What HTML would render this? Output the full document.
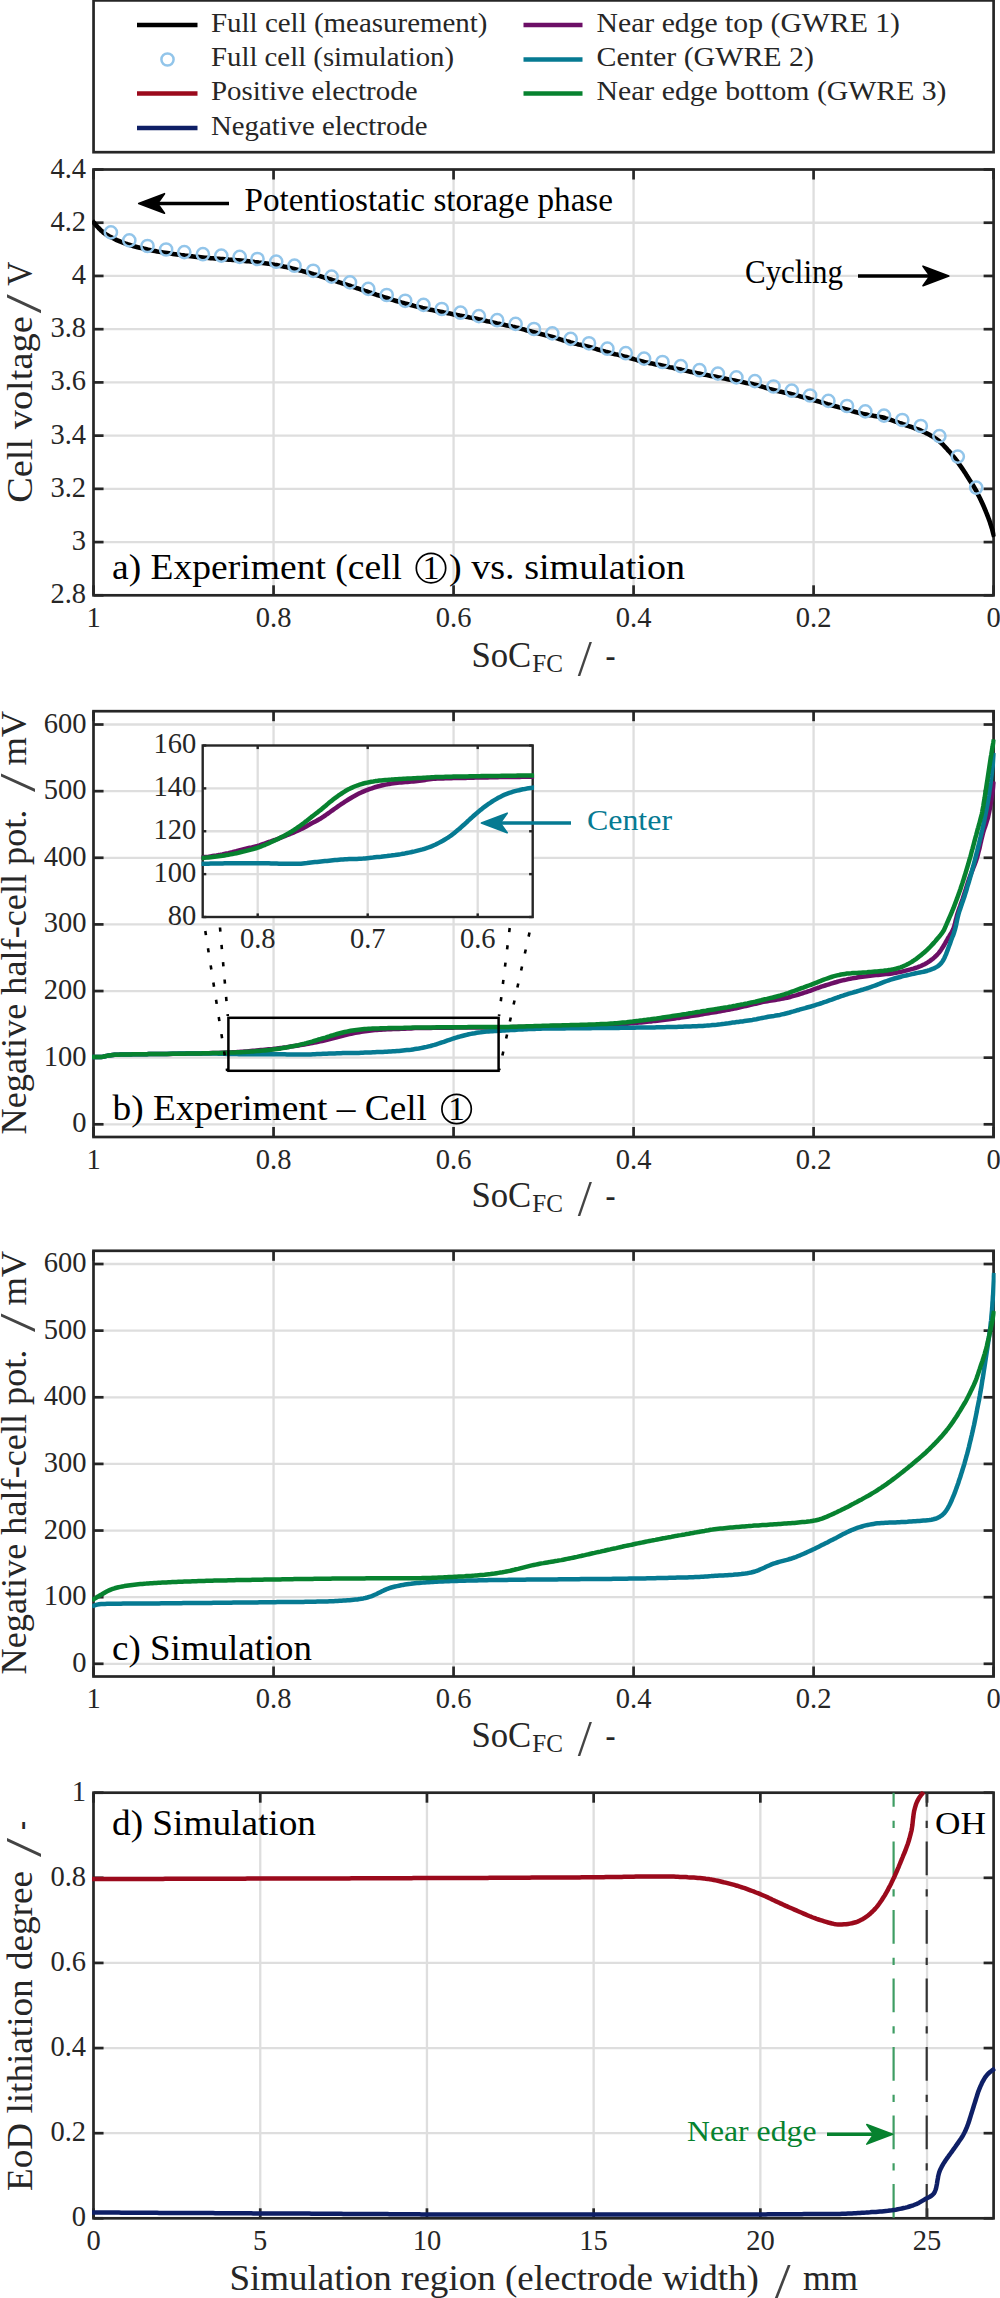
<!DOCTYPE html>
<html><head><meta charset="utf-8"><title>Figure</title><style>html,body{margin:0;padding:0;background:#fff}svg{display:block}</style></head><body>
<svg width="1000" height="2298" viewBox="0 0 1000 2298" font-family='"Liberation Serif", "DejaVu Serif", serif'>
<rect width="1000" height="2298" fill="#ffffff"/>
<rect x="93.55" y="0.4" width="900.05" height="151.8" fill="#fff" stroke="#262626" stroke-width="2.7"/>
<line x1="137.00" y1="25.00" x2="197.50" y2="25.00" stroke="#000000" stroke-width="4.5" />
<circle cx="167.5" cy="59.5" r="6.1" fill="none" stroke="#92c5ea" stroke-width="2.5"/>
<line x1="137.00" y1="93.50" x2="197.50" y2="93.50" stroke="#9b0a1c" stroke-width="4.3" />
<line x1="137.00" y1="128.00" x2="197.50" y2="128.00" stroke="#0e1f66" stroke-width="4.3" />
<line x1="523.50" y1="25.00" x2="582.50" y2="25.00" stroke="#6c0f66" stroke-width="4.3" />
<line x1="523.50" y1="59.50" x2="582.50" y2="59.50" stroke="#067a92" stroke-width="4.3" />
<line x1="523.50" y1="93.50" x2="582.50" y2="93.50" stroke="#07822f" stroke-width="4.3" />
<text x="211.0" y="31.5" font-size="26.5" text-anchor="start" fill="#262626" textLength="276.5" lengthAdjust="spacingAndGlyphs" >Full cell (measurement)</text>
<text x="211.0" y="66.0" font-size="26.5" text-anchor="start" fill="#262626" textLength="243.0" lengthAdjust="spacingAndGlyphs" >Full cell (simulation)</text>
<text x="211.0" y="100.3" font-size="26.5" text-anchor="start" fill="#262626" textLength="206.5" lengthAdjust="spacingAndGlyphs" >Positive electrode</text>
<text x="211.0" y="134.5" font-size="26.5" text-anchor="start" fill="#262626" textLength="216.5" lengthAdjust="spacingAndGlyphs" >Negative electrode</text>
<text x="596.5" y="31.5" font-size="26.5" text-anchor="start" fill="#262626" textLength="303.5" lengthAdjust="spacingAndGlyphs" >Near edge top (GWRE 1)</text>
<text x="596.5" y="66.0" font-size="26.5" text-anchor="start" fill="#262626" textLength="217.5" lengthAdjust="spacingAndGlyphs" >Center (GWRE 2)</text>
<text x="596.5" y="100.3" font-size="26.5" text-anchor="start" fill="#262626" textLength="350.0" lengthAdjust="spacingAndGlyphs" >Near edge bottom (GWRE 3)</text>
<line x1="273.56" y1="169.50" x2="273.56" y2="595.30" stroke="#dedede" stroke-width="2.3" />
<line x1="453.57" y1="169.50" x2="453.57" y2="595.30" stroke="#dedede" stroke-width="2.3" />
<line x1="633.58" y1="169.50" x2="633.58" y2="595.30" stroke="#dedede" stroke-width="2.3" />
<line x1="813.59" y1="169.50" x2="813.59" y2="595.30" stroke="#dedede" stroke-width="2.3" />
<line x1="93.55" y1="222.73" x2="993.60" y2="222.73" stroke="#dedede" stroke-width="2.3" />
<line x1="93.55" y1="275.95" x2="993.60" y2="275.95" stroke="#dedede" stroke-width="2.3" />
<line x1="93.55" y1="329.18" x2="993.60" y2="329.18" stroke="#dedede" stroke-width="2.3" />
<line x1="93.55" y1="382.40" x2="993.60" y2="382.40" stroke="#dedede" stroke-width="2.3" />
<line x1="93.55" y1="435.63" x2="993.60" y2="435.63" stroke="#dedede" stroke-width="2.3" />
<line x1="93.55" y1="488.85" x2="993.60" y2="488.85" stroke="#dedede" stroke-width="2.3" />
<line x1="93.55" y1="542.08" x2="993.60" y2="542.08" stroke="#dedede" stroke-width="2.3" />
<line x1="93.55" y1="595.30" x2="93.55" y2="585.30" stroke="#262626" stroke-width="2.7" />
<line x1="93.55" y1="169.50" x2="93.55" y2="179.50" stroke="#262626" stroke-width="2.7" />
<line x1="273.56" y1="595.30" x2="273.56" y2="585.30" stroke="#262626" stroke-width="2.7" />
<line x1="273.56" y1="169.50" x2="273.56" y2="179.50" stroke="#262626" stroke-width="2.7" />
<line x1="453.57" y1="595.30" x2="453.57" y2="585.30" stroke="#262626" stroke-width="2.7" />
<line x1="453.57" y1="169.50" x2="453.57" y2="179.50" stroke="#262626" stroke-width="2.7" />
<line x1="633.58" y1="595.30" x2="633.58" y2="585.30" stroke="#262626" stroke-width="2.7" />
<line x1="633.58" y1="169.50" x2="633.58" y2="179.50" stroke="#262626" stroke-width="2.7" />
<line x1="813.59" y1="595.30" x2="813.59" y2="585.30" stroke="#262626" stroke-width="2.7" />
<line x1="813.59" y1="169.50" x2="813.59" y2="179.50" stroke="#262626" stroke-width="2.7" />
<line x1="993.60" y1="595.30" x2="993.60" y2="585.30" stroke="#262626" stroke-width="2.7" />
<line x1="993.60" y1="169.50" x2="993.60" y2="179.50" stroke="#262626" stroke-width="2.7" />
<line x1="93.55" y1="169.50" x2="103.55" y2="169.50" stroke="#262626" stroke-width="2.7" />
<line x1="993.60" y1="169.50" x2="983.60" y2="169.50" stroke="#262626" stroke-width="2.7" />
<line x1="93.55" y1="222.73" x2="103.55" y2="222.73" stroke="#262626" stroke-width="2.7" />
<line x1="993.60" y1="222.73" x2="983.60" y2="222.73" stroke="#262626" stroke-width="2.7" />
<line x1="93.55" y1="275.95" x2="103.55" y2="275.95" stroke="#262626" stroke-width="2.7" />
<line x1="993.60" y1="275.95" x2="983.60" y2="275.95" stroke="#262626" stroke-width="2.7" />
<line x1="93.55" y1="329.18" x2="103.55" y2="329.18" stroke="#262626" stroke-width="2.7" />
<line x1="993.60" y1="329.18" x2="983.60" y2="329.18" stroke="#262626" stroke-width="2.7" />
<line x1="93.55" y1="382.40" x2="103.55" y2="382.40" stroke="#262626" stroke-width="2.7" />
<line x1="993.60" y1="382.40" x2="983.60" y2="382.40" stroke="#262626" stroke-width="2.7" />
<line x1="93.55" y1="435.63" x2="103.55" y2="435.63" stroke="#262626" stroke-width="2.7" />
<line x1="993.60" y1="435.63" x2="983.60" y2="435.63" stroke="#262626" stroke-width="2.7" />
<line x1="93.55" y1="488.85" x2="103.55" y2="488.85" stroke="#262626" stroke-width="2.7" />
<line x1="993.60" y1="488.85" x2="983.60" y2="488.85" stroke="#262626" stroke-width="2.7" />
<line x1="93.55" y1="542.08" x2="103.55" y2="542.08" stroke="#262626" stroke-width="2.7" />
<line x1="993.60" y1="542.08" x2="983.60" y2="542.08" stroke="#262626" stroke-width="2.7" />
<line x1="93.55" y1="595.30" x2="103.55" y2="595.30" stroke="#262626" stroke-width="2.7" />
<line x1="993.60" y1="595.30" x2="983.60" y2="595.30" stroke="#262626" stroke-width="2.7" />
<rect x="93.5" y="169.5" width="900.1" height="425.8" fill="none" stroke="#262626" stroke-width="2.7"/>
<clipPath id="ca"><rect x="92.1" y="168.1" width="903.5" height="428.6"/></clipPath>
<g clip-path="url(#ca)">
<polyline points="92.3,220.8 93.3,222.0 94.6,223.5 95.9,225.1 97.2,226.5 98.6,228.0 100.0,229.4 101.4,230.8 102.9,232.1 104.5,233.4 106.2,234.5 107.9,235.5 109.6,236.5 111.4,237.4 113.2,238.3 115.0,239.2 116.8,240.1 118.6,240.9 120.5,241.7 122.3,242.4 124.2,243.1 126.1,243.8 128.0,244.4 129.9,245.0 131.8,245.6 133.7,246.2 135.7,246.7 137.6,247.2 139.6,247.7 141.5,248.1 143.5,248.6 145.4,249.0 147.4,249.5 149.3,249.9 151.3,250.3 153.3,250.7 155.2,251.0 157.2,251.4 159.2,251.7 161.1,252.1 163.1,252.4 165.1,252.7 167.1,253.0 169.1,253.3 171.0,253.6 173.0,253.9 175.0,254.2 177.0,254.5 179.0,254.7 181.0,255.0 183.0,255.2 184.9,255.5 186.9,255.7 188.9,256.0 190.9,256.2 192.9,256.4 194.9,256.7 196.9,256.9 198.9,257.1 200.9,257.3 202.9,257.5 204.8,257.7 206.8,257.8 208.8,258.0 210.8,258.2 212.8,258.3 214.8,258.5 216.8,258.7 218.8,258.8 220.8,259.0 222.8,259.1 224.8,259.3 226.8,259.4 228.8,259.6 230.8,259.7 232.8,259.9 234.8,260.0 236.8,260.2 238.8,260.3 240.8,260.5 242.8,260.7 244.8,260.9 246.8,261.1 248.8,261.3 250.8,261.5 252.7,261.7 254.7,262.0 256.7,262.2 258.7,262.5 260.7,262.7 262.7,263.0 264.7,263.2 266.7,263.5 268.6,263.8 270.6,264.1 272.6,264.4 274.6,264.8 276.5,265.1 278.5,265.5 280.5,265.9 282.4,266.3 284.4,266.7 286.4,267.1 288.3,267.5 290.3,268.0 292.2,268.5 294.2,268.9 296.1,269.4 298.0,269.9 300.0,270.4 301.9,270.9 303.9,271.4 305.8,272.0 307.7,272.5 309.6,273.0 311.6,273.6 313.5,274.2 315.4,274.7 317.3,275.3 319.2,275.9 321.2,276.5 323.1,277.1 325.0,277.7 326.9,278.3 328.8,278.9 330.7,279.5 332.6,280.1 334.5,280.7 336.4,281.4 338.3,282.0 340.2,282.6 342.1,283.2 344.0,283.8 345.9,284.5 347.8,285.1 349.7,285.7 351.6,286.4 353.5,287.0 355.4,287.6 357.3,288.3 359.2,288.9 361.1,289.6 363.0,290.2 364.9,290.9 366.8,291.5 368.7,292.1 370.6,292.8 372.5,293.4 374.4,294.0 376.3,294.7 378.2,295.3 380.1,295.9 382.0,296.5 383.9,297.1 385.9,297.7 387.8,298.3 389.7,298.9 391.6,299.5 393.5,300.1 395.4,300.7 397.3,301.3 399.3,301.8 401.2,302.4 403.1,302.9 405.0,303.5 407.0,304.0 408.9,304.5 410.8,305.1 412.8,305.6 414.7,306.1 416.7,306.6 418.6,307.0 420.6,307.5 422.5,308.0 424.5,308.4 426.4,308.8 428.4,309.3 430.3,309.7 432.3,310.1 434.3,310.5 436.2,310.9 438.2,311.3 440.1,311.7 442.1,312.1 444.1,312.5 446.0,312.8 448.0,313.2 450.0,313.6 451.9,314.0 453.9,314.4 455.9,314.8 457.8,315.2 459.8,315.6 461.8,315.9 463.7,316.3 465.7,316.7 467.7,317.1 469.6,317.5 471.6,317.8 473.6,318.2 475.5,318.6 477.5,319.0 479.4,319.4 481.4,319.8 483.4,320.3 485.3,320.7 487.3,321.2 489.2,321.6 491.2,322.0 493.1,322.5 495.1,322.9 497.0,323.4 499.0,323.8 501.0,324.2 502.9,324.6 504.9,325.0 506.8,325.4 508.8,325.8 510.8,326.2 512.7,326.7 514.7,327.1 516.6,327.6 518.6,328.1 520.5,328.6 522.4,329.1 524.4,329.6 526.3,330.2 528.2,330.7 530.1,331.2 532.1,331.8 534.0,332.3 535.9,332.8 537.9,333.3 539.8,333.8 541.8,334.3 543.7,334.8 545.7,335.3 547.6,335.8 549.5,336.3 551.5,336.8 553.4,337.3 555.3,337.9 557.2,338.4 559.2,339.0 561.1,339.6 563.0,340.2 564.9,340.7 566.8,341.3 568.8,341.8 570.7,342.4 572.6,342.9 574.6,343.4 576.5,343.9 578.5,344.4 580.4,344.8 582.4,345.3 584.3,345.8 586.2,346.3 588.2,346.8 590.1,347.3 592.0,347.8 594.0,348.4 595.9,348.9 597.8,349.5 599.7,350.0 601.7,350.6 603.6,351.1 605.5,351.7 607.5,352.2 609.4,352.7 611.3,353.2 613.3,353.7 615.2,354.2 617.2,354.6 619.1,355.1 621.1,355.6 623.0,356.1 624.9,356.6 626.9,357.1 628.8,357.7 630.7,358.2 632.7,358.8 634.6,359.4 636.5,359.9 638.4,360.5 640.4,361.0 642.3,361.5 644.2,362.0 646.2,362.4 648.1,362.8 650.1,363.2 652.1,363.6 654.0,364.0 656.0,364.4 658.0,364.7 659.9,365.1 661.9,365.5 663.9,365.9 665.8,366.3 667.8,366.7 669.7,367.2 671.7,367.6 673.7,368.0 675.6,368.5 677.6,368.9 679.5,369.3 681.5,369.8 683.4,370.2 685.4,370.6 687.3,371.1 689.3,371.5 691.3,371.9 693.2,372.4 695.2,372.8 697.1,373.2 699.1,373.6 701.1,374.0 703.0,374.4 705.0,374.8 707.0,375.1 708.9,375.5 710.9,375.9 712.9,376.2 714.8,376.6 716.8,377.0 718.8,377.4 720.7,377.8 722.7,378.2 724.6,378.6 726.6,379.0 728.6,379.4 730.5,379.8 732.5,380.2 734.5,380.6 736.4,381.0 738.4,381.4 740.4,381.8 742.3,382.1 744.3,382.5 746.3,382.9 748.2,383.2 750.2,383.6 752.2,384.0 754.1,384.5 756.1,384.9 758.0,385.4 759.9,386.0 761.8,386.5 763.8,387.1 765.7,387.7 767.6,388.3 769.5,388.9 771.4,389.4 773.4,389.9 775.3,390.4 777.3,390.9 779.2,391.4 781.2,391.8 783.1,392.2 785.1,392.7 787.0,393.1 789.0,393.5 790.9,394.0 792.9,394.5 794.8,395.0 796.8,395.4 798.7,395.9 800.6,396.5 802.6,397.0 804.5,397.5 806.5,398.0 808.4,398.5 810.3,399.1 812.2,399.6 814.2,400.2 816.1,400.7 818.0,401.3 819.9,401.9 821.8,402.5 823.8,403.0 825.7,403.6 827.6,404.2 829.5,404.7 831.5,405.3 833.4,405.8 835.3,406.3 837.3,406.8 839.2,407.4 841.1,407.9 843.0,408.4 845.0,409.0 846.9,409.5 848.8,410.0 850.8,410.6 852.7,411.2 854.6,411.7 856.5,412.3 858.5,412.8 860.4,413.3 862.4,413.8 864.3,414.2 866.3,414.6 868.2,415.0 870.2,415.3 872.2,415.6 874.2,415.9 876.2,416.2 878.1,416.5 880.1,416.9 882.0,417.3 884.0,417.8 885.9,418.4 887.8,418.9 889.7,419.5 891.6,420.2 893.5,420.9 895.4,421.5 897.3,422.2 899.2,422.9 901.1,423.5 903.0,424.2 904.9,424.8 906.8,425.5 908.7,426.1 910.6,426.7 912.5,427.4 914.4,428.1 916.3,428.8 918.1,429.5 920.0,430.2 921.8,431.0 923.6,431.8 925.4,432.7 927.2,433.6 929.0,434.6 930.7,435.6 932.5,436.6 934.2,437.6 935.8,438.7 937.5,439.9 939.1,441.1 940.6,442.4 942.0,443.7 943.5,445.2 944.8,446.6 946.2,448.1 947.5,449.6 948.9,451.1 950.2,452.6 951.5,454.1 952.7,455.7 954.0,457.2 955.2,458.8 956.5,460.4 957.7,462.0 958.8,463.6 960.0,465.3 961.1,466.9 962.3,468.6 963.4,470.2 964.5,471.9 965.6,473.6 966.6,475.3 967.7,477.0 968.8,478.7 969.9,480.4 970.9,482.0 972.0,483.7 973.1,485.5 974.1,487.2 975.1,488.9 976.1,490.7 977.0,492.4 977.9,494.2 978.8,496.0 979.7,497.8 980.6,499.6 981.4,501.4 982.3,503.2 983.1,505.0 983.9,506.9 984.7,508.7 985.5,510.6 986.2,512.4 987.0,514.3 987.7,516.1 988.4,518.0 989.1,519.9 989.8,521.8 990.4,523.7 991.0,525.6 991.6,527.5 992.2,529.4 992.7,531.4 993.2,533.3 993.7,535.2 994.2,536.8" fill="none" stroke="#000000" stroke-width="4.6" stroke-linejoin="round" />
</g>
<circle cx="110.9" cy="232.4" r="6.1" fill="none" stroke="#92c5ea" stroke-width="2.5"/>
<circle cx="129.3" cy="240.4" r="6.1" fill="none" stroke="#92c5ea" stroke-width="2.5"/>
<circle cx="147.5" cy="246.0" r="6.1" fill="none" stroke="#92c5ea" stroke-width="2.5"/>
<circle cx="166.1" cy="249.5" r="6.1" fill="none" stroke="#92c5ea" stroke-width="2.5"/>
<circle cx="184.3" cy="252.1" r="6.1" fill="none" stroke="#92c5ea" stroke-width="2.5"/>
<circle cx="202.9" cy="254.2" r="6.1" fill="none" stroke="#92c5ea" stroke-width="2.5"/>
<circle cx="221.3" cy="255.6" r="6.1" fill="none" stroke="#92c5ea" stroke-width="2.5"/>
<circle cx="239.7" cy="256.9" r="6.1" fill="none" stroke="#92c5ea" stroke-width="2.5"/>
<circle cx="257.5" cy="259.0" r="6.1" fill="none" stroke="#92c5ea" stroke-width="2.5"/>
<circle cx="276.2" cy="261.7" r="6.1" fill="none" stroke="#92c5ea" stroke-width="2.5"/>
<circle cx="294.5" cy="265.7" r="6.1" fill="none" stroke="#92c5ea" stroke-width="2.5"/>
<circle cx="313.2" cy="270.8" r="6.1" fill="none" stroke="#92c5ea" stroke-width="2.5"/>
<circle cx="331.6" cy="276.6" r="6.1" fill="none" stroke="#92c5ea" stroke-width="2.5"/>
<circle cx="350.0" cy="282.4" r="6.1" fill="none" stroke="#92c5ea" stroke-width="2.5"/>
<circle cx="368.3" cy="288.9" r="6.1" fill="none" stroke="#92c5ea" stroke-width="2.5"/>
<circle cx="386.7" cy="295.0" r="6.1" fill="none" stroke="#92c5ea" stroke-width="2.5"/>
<circle cx="405.2" cy="300.8" r="6.1" fill="none" stroke="#92c5ea" stroke-width="2.5"/>
<circle cx="423.5" cy="304.9" r="6.1" fill="none" stroke="#92c5ea" stroke-width="2.5"/>
<circle cx="441.8" cy="309.0" r="6.1" fill="none" stroke="#92c5ea" stroke-width="2.5"/>
<circle cx="460.5" cy="312.7" r="6.1" fill="none" stroke="#92c5ea" stroke-width="2.5"/>
<circle cx="478.9" cy="316.1" r="6.1" fill="none" stroke="#92c5ea" stroke-width="2.5"/>
<circle cx="497.2" cy="320.2" r="6.1" fill="none" stroke="#92c5ea" stroke-width="2.5"/>
<circle cx="515.6" cy="323.9" r="6.1" fill="none" stroke="#92c5ea" stroke-width="2.5"/>
<circle cx="534.0" cy="329.0" r="6.1" fill="none" stroke="#92c5ea" stroke-width="2.5"/>
<circle cx="552.3" cy="333.4" r="6.1" fill="none" stroke="#92c5ea" stroke-width="2.5"/>
<circle cx="570.7" cy="338.9" r="6.1" fill="none" stroke="#92c5ea" stroke-width="2.5"/>
<circle cx="589.0" cy="343.3" r="6.1" fill="none" stroke="#92c5ea" stroke-width="2.5"/>
<circle cx="607.4" cy="348.7" r="6.1" fill="none" stroke="#92c5ea" stroke-width="2.5"/>
<circle cx="625.8" cy="353.2" r="6.1" fill="none" stroke="#92c5ea" stroke-width="2.5"/>
<circle cx="644.1" cy="358.6" r="6.1" fill="none" stroke="#92c5ea" stroke-width="2.5"/>
<circle cx="662.5" cy="362.0" r="6.1" fill="none" stroke="#92c5ea" stroke-width="2.5"/>
<circle cx="680.8" cy="366.1" r="6.1" fill="none" stroke="#92c5ea" stroke-width="2.5"/>
<circle cx="699.5" cy="370.2" r="6.1" fill="none" stroke="#92c5ea" stroke-width="2.5"/>
<circle cx="717.9" cy="373.6" r="6.1" fill="none" stroke="#92c5ea" stroke-width="2.5"/>
<circle cx="736.4" cy="377.4" r="6.1" fill="none" stroke="#92c5ea" stroke-width="2.5"/>
<circle cx="754.9" cy="381.1" r="6.1" fill="none" stroke="#92c5ea" stroke-width="2.5"/>
<circle cx="773.5" cy="386.5" r="6.1" fill="none" stroke="#92c5ea" stroke-width="2.5"/>
<circle cx="791.8" cy="390.7" r="6.1" fill="none" stroke="#92c5ea" stroke-width="2.5"/>
<circle cx="810.1" cy="395.5" r="6.1" fill="none" stroke="#92c5ea" stroke-width="2.5"/>
<circle cx="828.4" cy="400.9" r="6.1" fill="none" stroke="#92c5ea" stroke-width="2.5"/>
<circle cx="847.0" cy="406.0" r="6.1" fill="none" stroke="#92c5ea" stroke-width="2.5"/>
<circle cx="865.3" cy="411.4" r="6.1" fill="none" stroke="#92c5ea" stroke-width="2.5"/>
<circle cx="884.0" cy="415.6" r="6.1" fill="none" stroke="#92c5ea" stroke-width="2.5"/>
<circle cx="902.3" cy="420.0" r="6.1" fill="none" stroke="#92c5ea" stroke-width="2.5"/>
<circle cx="920.8" cy="426.0" r="6.1" fill="none" stroke="#92c5ea" stroke-width="2.5"/>
<circle cx="939.4" cy="436.1" r="6.1" fill="none" stroke="#92c5ea" stroke-width="2.5"/>
<circle cx="957.8" cy="456.6" r="6.1" fill="none" stroke="#92c5ea" stroke-width="2.5"/>
<circle cx="976.2" cy="487.6" r="6.1" fill="none" stroke="#92c5ea" stroke-width="2.5"/>
<text x="86.0" y="177.5" font-size="28.5" text-anchor="end" fill="#262626" >4.4</text>
<text x="86.0" y="230.7" font-size="28.5" text-anchor="end" fill="#262626" >4.2</text>
<text x="86.0" y="284.0" font-size="28.5" text-anchor="end" fill="#262626" >4</text>
<text x="86.0" y="337.2" font-size="28.5" text-anchor="end" fill="#262626" >3.8</text>
<text x="86.0" y="390.4" font-size="28.5" text-anchor="end" fill="#262626" >3.6</text>
<text x="86.0" y="443.6" font-size="28.5" text-anchor="end" fill="#262626" >3.4</text>
<text x="86.0" y="496.9" font-size="28.5" text-anchor="end" fill="#262626" >3.2</text>
<text x="86.0" y="550.1" font-size="28.5" text-anchor="end" fill="#262626" >3</text>
<text x="86.0" y="603.3" font-size="28.5" text-anchor="end" fill="#262626" >2.8</text>
<text x="93.5" y="627.2" font-size="28.5" text-anchor="middle" fill="#262626" >1</text>
<text x="273.6" y="627.2" font-size="28.5" text-anchor="middle" fill="#262626" >0.8</text>
<text x="453.6" y="627.2" font-size="28.5" text-anchor="middle" fill="#262626" >0.6</text>
<text x="633.6" y="627.2" font-size="28.5" text-anchor="middle" fill="#262626" >0.4</text>
<text x="813.6" y="627.2" font-size="28.5" text-anchor="middle" fill="#262626" >0.2</text>
<text x="993.6" y="627.2" font-size="28.5" text-anchor="middle" fill="#262626" >0</text>
<text x="471.4" y="666.5" font-size="35.0" fill="#262626" textLength="59.8" lengthAdjust="spacingAndGlyphs">SoC</text>
<text x="532.3" y="671.7" font-size="25.2" fill="#262626" textLength="30.7" lengthAdjust="spacingAndGlyphs">FC</text>
<text x="577.8" y="674.7" font-size="50.8" fill="#444" textLength="14.2" lengthAdjust="spacingAndGlyphs">/</text>
<text x="605.5" y="666.5" font-size="35.0" fill="#262626" textLength="10.0" lengthAdjust="spacingAndGlyphs">-</text>
<g transform="translate(32.0,502.8) rotate(-90)">
<text x="0.0" y="0.0" font-size="35.0" fill="#262626" textLength="186.5" lengthAdjust="spacingAndGlyphs">Cell voltage</text>
<text x="189.5" y="8.2" font-size="50.8" fill="#444" textLength="19.0" lengthAdjust="spacingAndGlyphs">/</text>
<text x="216.8" y="0.0" font-size="35.0" fill="#262626" textLength="24.5" lengthAdjust="spacingAndGlyphs">V</text>
</g>
<text x="112.0" y="579.0" font-size="35" text-anchor="start" fill="#000" textLength="290.0" lengthAdjust="spacingAndGlyphs" >a) Experiment (cell</text>
<text x="449.0" y="579.0" font-size="35" text-anchor="start" fill="#000" textLength="236.0" lengthAdjust="spacingAndGlyphs" >) vs. simulation</text>
<circle cx="431.0" cy="568.1" r="14.7" fill="none" stroke="#000" stroke-width="1.7"/>
<text x="431.0" y="578.8" font-size="34" text-anchor="middle" fill="#000" >1</text>
<text x="244.5" y="211.0" font-size="33" text-anchor="start" fill="#000" textLength="368.5" lengthAdjust="spacingAndGlyphs" >Potentiostatic storage phase</text>
<text x="745.0" y="283.0" font-size="33" text-anchor="start" fill="#000" textLength="98.0" lengthAdjust="spacingAndGlyphs" >Cycling</text>
<line x1="229.00" y1="203.50" x2="157.50" y2="203.50" stroke="#000000" stroke-width="3.5" />
<polygon points="138.7,203.5 164.5,193.7 157.5,203.5 164.5,213.3" fill="#000000" stroke="#000000" stroke-width="1.6" stroke-linejoin="round"/>
<line x1="858.00" y1="276.00" x2="930.00" y2="276.00" stroke="#000000" stroke-width="3.5" />
<polygon points="948.8,276.0 923.0,266.2 930.0,276.0 923.0,285.8" fill="#000000" stroke="#000000" stroke-width="1.6" stroke-linejoin="round"/>
<line x1="273.56" y1="711.20" x2="273.56" y2="1137.00" stroke="#dedede" stroke-width="2.3" />
<line x1="453.57" y1="711.20" x2="453.57" y2="1137.00" stroke="#dedede" stroke-width="2.3" />
<line x1="633.58" y1="711.20" x2="633.58" y2="1137.00" stroke="#dedede" stroke-width="2.3" />
<line x1="813.59" y1="711.20" x2="813.59" y2="1137.00" stroke="#dedede" stroke-width="2.3" />
<line x1="93.55" y1="1124.30" x2="993.60" y2="1124.30" stroke="#dedede" stroke-width="2.3" />
<line x1="93.55" y1="1057.67" x2="993.60" y2="1057.67" stroke="#dedede" stroke-width="2.3" />
<line x1="93.55" y1="991.04" x2="993.60" y2="991.04" stroke="#dedede" stroke-width="2.3" />
<line x1="93.55" y1="924.41" x2="993.60" y2="924.41" stroke="#dedede" stroke-width="2.3" />
<line x1="93.55" y1="857.78" x2="993.60" y2="857.78" stroke="#dedede" stroke-width="2.3" />
<line x1="93.55" y1="791.15" x2="993.60" y2="791.15" stroke="#dedede" stroke-width="2.3" />
<line x1="93.55" y1="724.52" x2="993.60" y2="724.52" stroke="#dedede" stroke-width="2.3" />
<line x1="93.55" y1="1137.00" x2="93.55" y2="1127.00" stroke="#262626" stroke-width="2.7" />
<line x1="93.55" y1="711.20" x2="93.55" y2="721.20" stroke="#262626" stroke-width="2.7" />
<line x1="273.56" y1="1137.00" x2="273.56" y2="1127.00" stroke="#262626" stroke-width="2.7" />
<line x1="273.56" y1="711.20" x2="273.56" y2="721.20" stroke="#262626" stroke-width="2.7" />
<line x1="453.57" y1="1137.00" x2="453.57" y2="1127.00" stroke="#262626" stroke-width="2.7" />
<line x1="453.57" y1="711.20" x2="453.57" y2="721.20" stroke="#262626" stroke-width="2.7" />
<line x1="633.58" y1="1137.00" x2="633.58" y2="1127.00" stroke="#262626" stroke-width="2.7" />
<line x1="633.58" y1="711.20" x2="633.58" y2="721.20" stroke="#262626" stroke-width="2.7" />
<line x1="813.59" y1="1137.00" x2="813.59" y2="1127.00" stroke="#262626" stroke-width="2.7" />
<line x1="813.59" y1="711.20" x2="813.59" y2="721.20" stroke="#262626" stroke-width="2.7" />
<line x1="993.60" y1="1137.00" x2="993.60" y2="1127.00" stroke="#262626" stroke-width="2.7" />
<line x1="993.60" y1="711.20" x2="993.60" y2="721.20" stroke="#262626" stroke-width="2.7" />
<line x1="93.55" y1="1124.30" x2="103.55" y2="1124.30" stroke="#262626" stroke-width="2.7" />
<line x1="993.60" y1="1124.30" x2="983.60" y2="1124.30" stroke="#262626" stroke-width="2.7" />
<line x1="93.55" y1="1057.67" x2="103.55" y2="1057.67" stroke="#262626" stroke-width="2.7" />
<line x1="993.60" y1="1057.67" x2="983.60" y2="1057.67" stroke="#262626" stroke-width="2.7" />
<line x1="93.55" y1="991.04" x2="103.55" y2="991.04" stroke="#262626" stroke-width="2.7" />
<line x1="993.60" y1="991.04" x2="983.60" y2="991.04" stroke="#262626" stroke-width="2.7" />
<line x1="93.55" y1="924.41" x2="103.55" y2="924.41" stroke="#262626" stroke-width="2.7" />
<line x1="993.60" y1="924.41" x2="983.60" y2="924.41" stroke="#262626" stroke-width="2.7" />
<line x1="93.55" y1="857.78" x2="103.55" y2="857.78" stroke="#262626" stroke-width="2.7" />
<line x1="993.60" y1="857.78" x2="983.60" y2="857.78" stroke="#262626" stroke-width="2.7" />
<line x1="93.55" y1="791.15" x2="103.55" y2="791.15" stroke="#262626" stroke-width="2.7" />
<line x1="993.60" y1="791.15" x2="983.60" y2="791.15" stroke="#262626" stroke-width="2.7" />
<line x1="93.55" y1="724.52" x2="103.55" y2="724.52" stroke="#262626" stroke-width="2.7" />
<line x1="993.60" y1="724.52" x2="983.60" y2="724.52" stroke="#262626" stroke-width="2.7" />
<rect x="93.5" y="711.2" width="900.1" height="425.8" fill="none" stroke="#262626" stroke-width="2.7"/>
<clipPath id="cb"><rect x="92.1" y="709.8" width="903.5" height="428.6"/></clipPath>
<g clip-path="url(#cb)">
<polyline points="91.4,1057.0 93.0,1057.0 95.0,1057.0 97.0,1057.0 99.0,1057.0 101.0,1056.9 103.0,1056.7 104.9,1056.3 106.8,1055.9 108.8,1055.5 110.7,1055.2 112.7,1055.0 114.7,1054.8 116.7,1054.7 118.7,1054.7 120.7,1054.6 122.7,1054.5 124.7,1054.5 126.8,1054.4 128.8,1054.4 130.8,1054.4 132.8,1054.3 134.8,1054.3 136.8,1054.3 138.8,1054.3 140.8,1054.2 142.8,1054.2 144.8,1054.2 146.8,1054.2 148.8,1054.1 150.8,1054.1 152.8,1054.1 154.8,1054.1 156.8,1054.0 158.8,1054.0 160.8,1054.0 162.8,1054.0 164.8,1053.9 166.8,1053.9 168.8,1053.9 170.8,1053.9 172.8,1053.8 174.8,1053.8 176.8,1053.8 178.8,1053.7 180.8,1053.7 182.8,1053.7 184.8,1053.7 186.8,1053.6 188.8,1053.6 190.8,1053.6 192.8,1053.5 194.8,1053.5 196.8,1053.5 198.8,1053.4 200.8,1053.4 202.8,1053.3 204.8,1053.3 206.8,1053.2 208.8,1053.2 210.8,1053.1 212.8,1053.1 214.8,1053.0 216.8,1052.9 218.8,1052.9 220.8,1052.8 222.8,1052.7 224.8,1052.6 226.8,1052.5 228.8,1052.5 230.8,1052.4 232.8,1052.3 234.8,1052.2 236.8,1052.1 238.8,1051.9 240.8,1051.8 242.8,1051.7 244.8,1051.5 246.8,1051.4 248.8,1051.2 250.8,1051.0 252.8,1050.8 254.8,1050.7 256.8,1050.5 258.8,1050.3 260.8,1050.1 262.8,1049.9 264.8,1049.7 266.8,1049.5 268.7,1049.3 270.7,1049.2 272.7,1049.0 274.7,1048.7 276.7,1048.5 278.7,1048.2 280.7,1047.9 282.7,1047.7 284.6,1047.4 286.6,1047.2 288.6,1046.9 290.6,1046.6 292.6,1046.3 294.6,1046.0 296.5,1045.7 298.5,1045.4 300.5,1045.1 302.5,1044.8 304.4,1044.5 306.4,1044.1 308.4,1043.8 310.4,1043.4 312.3,1043.0 314.3,1042.6 316.2,1042.2 318.2,1041.8 320.2,1041.4 322.1,1041.0 324.1,1040.6 326.0,1040.1 328.0,1039.6 329.9,1039.1 331.8,1038.6 333.8,1038.1 335.7,1037.6 337.6,1037.0 339.6,1036.5 341.5,1036.0 343.5,1035.5 345.4,1035.1 347.3,1034.6 349.3,1034.1 351.2,1033.7 353.2,1033.3 355.2,1032.9 357.1,1032.5 359.1,1032.2 361.1,1031.8 363.1,1031.5 365.0,1031.3 367.0,1031.0 369.0,1030.7 371.0,1030.5 373.0,1030.3 375.0,1030.1 377.0,1029.9 379.0,1029.8 381.0,1029.7 383.0,1029.5 385.0,1029.4 387.0,1029.3 389.0,1029.2 391.0,1029.2 393.0,1029.1 395.0,1029.0 397.0,1029.0 399.0,1028.9 401.0,1028.8 403.0,1028.8 405.0,1028.7 407.0,1028.6 409.0,1028.5 411.0,1028.4 413.0,1028.2 415.0,1028.1 417.0,1028.1 419.0,1028.0 421.0,1028.0 423.0,1027.9 425.0,1027.9 427.0,1027.9 429.0,1027.9 431.0,1027.9 433.0,1027.8 435.0,1027.8 437.0,1027.8 439.0,1027.8 441.0,1027.8 443.0,1027.8 445.0,1027.7 447.0,1027.7 449.0,1027.7 451.0,1027.7 453.0,1027.7 455.0,1027.6 457.0,1027.6 459.0,1027.6 461.0,1027.6 463.0,1027.6 465.0,1027.6 467.0,1027.6 469.0,1027.5 471.0,1027.5 473.0,1027.5 475.0,1027.5 477.0,1027.5 479.0,1027.5 481.0,1027.5 483.0,1027.5 485.0,1027.5 487.0,1027.5 489.0,1027.4 491.0,1027.4 493.0,1027.4 495.0,1027.4 497.0,1027.4 499.0,1027.4 501.0,1027.4 503.0,1027.3 505.0,1027.3 507.1,1027.3 509.1,1027.2 511.1,1027.2 513.1,1027.1 515.1,1027.1 517.1,1027.0 519.1,1027.0 521.1,1026.9 523.1,1026.9 525.1,1026.8 527.1,1026.8 529.1,1026.7 531.1,1026.6 533.1,1026.6 535.1,1026.5 537.1,1026.5 539.1,1026.4 541.1,1026.4 543.1,1026.3 545.1,1026.3 547.1,1026.2 549.1,1026.2 551.1,1026.2 553.1,1026.1 555.1,1026.1 557.1,1026.1 559.1,1026.0 561.1,1026.0 563.1,1026.0 565.1,1025.9 567.1,1025.9 569.1,1025.9 571.1,1025.8 573.1,1025.8 575.1,1025.8 577.1,1025.7 579.1,1025.7 581.1,1025.7 583.1,1025.6 585.1,1025.6 587.1,1025.5 589.1,1025.5 591.1,1025.5 593.1,1025.4 595.1,1025.4 597.1,1025.3 599.1,1025.3 601.1,1025.2 603.1,1025.2 605.1,1025.1 607.1,1025.0 609.1,1024.9 611.1,1024.9 613.1,1024.8 615.1,1024.6 617.1,1024.5 619.1,1024.4 621.1,1024.2 623.1,1024.1 625.1,1023.9 627.1,1023.7 629.1,1023.5 631.1,1023.3 633.1,1023.2 635.1,1023.0 637.1,1022.8 639.1,1022.6 641.1,1022.4 643.0,1022.2 645.0,1022.0 647.0,1021.8 649.0,1021.6 651.0,1021.4 653.0,1021.1 655.0,1020.9 657.0,1020.7 659.0,1020.4 661.0,1020.2 662.9,1020.0 664.9,1019.7 666.9,1019.5 668.9,1019.2 670.9,1018.9 672.9,1018.7 674.9,1018.4 676.8,1018.1 678.8,1017.9 680.8,1017.6 682.8,1017.3 684.8,1017.0 686.7,1016.7 688.7,1016.4 690.7,1016.1 692.7,1015.8 694.7,1015.5 696.6,1015.2 698.6,1014.9 700.6,1014.6 702.6,1014.2 704.5,1013.9 706.5,1013.6 708.5,1013.3 710.5,1012.9 712.4,1012.6 714.4,1012.2 716.4,1011.9 718.4,1011.6 720.3,1011.2 722.3,1010.8 724.3,1010.5 726.2,1010.1 728.2,1009.7 730.2,1009.4 732.1,1009.0 734.1,1008.6 736.1,1008.2 738.0,1007.8 740.0,1007.3 741.9,1006.9 743.9,1006.4 745.8,1006.0 747.8,1005.5 749.7,1005.0 751.7,1004.6 753.6,1004.1 755.6,1003.7 757.5,1003.2 759.5,1002.8 761.4,1002.3 763.4,1001.9 765.4,1001.5 767.3,1001.2 769.3,1000.8 771.3,1000.5 773.2,1000.2 775.2,999.9 777.2,999.6 779.2,999.3 781.1,998.9 783.1,998.5 785.1,998.1 787.0,997.7 789.0,997.2 790.9,996.7 792.8,996.1 794.8,995.6 796.7,995.1 798.6,994.5 800.5,993.9 802.4,993.3 804.3,992.7 806.2,992.1 808.1,991.4 810.0,990.8 811.9,990.1 813.8,989.4 815.7,988.7 817.6,988.0 819.4,987.4 821.3,986.7 823.2,986.1 825.1,985.5 827.0,984.9 829.0,984.3 830.9,983.7 832.8,983.1 834.7,982.5 836.6,982.0 838.6,981.4 840.5,980.9 842.5,980.4 844.4,980.0 846.3,979.6 848.3,979.1 850.3,978.8 852.2,978.4 854.2,978.0 856.2,977.7 858.2,977.3 860.1,977.0 862.1,976.7 864.1,976.4 866.1,976.2 868.1,975.9 870.1,975.7 872.0,975.5 874.0,975.3 876.0,975.1 878.0,974.9 880.0,974.7 882.0,974.5 884.0,974.3 886.0,974.1 888.0,973.9 890.0,973.7 892.0,973.4 893.9,973.1 895.9,972.8 897.9,972.4 899.8,972.0 901.8,971.6 903.7,971.1 905.7,970.6 907.6,970.1 909.6,969.6 911.5,969.1 913.4,968.6 915.4,968.0 917.3,967.4 919.1,966.7 921.0,966.0 922.8,965.1 924.6,964.2 926.3,963.3 928.1,962.2 929.7,961.1 931.3,959.9 932.9,958.7 934.4,957.4 935.9,956.0 937.3,954.6 938.6,953.1 939.9,951.5 941.0,949.9 942.1,948.2 943.2,946.5 944.2,944.8 945.2,943.1 946.2,941.3 947.2,939.6 948.2,937.8 949.3,936.1 950.3,934.4 951.4,932.7 952.4,931.0 953.2,929.2 953.9,927.4 954.5,925.5 955.0,923.6 955.4,921.6 955.9,919.6 956.4,917.7 956.9,915.7 957.5,913.8 958.1,911.9 958.7,910.0 959.4,908.1 960.1,906.3 960.7,904.4 961.4,902.5 962.1,900.6 962.8,898.7 963.4,896.8 964.0,894.9 964.6,893.0 965.2,891.1 965.8,889.2 966.4,887.3 967.0,885.4 967.6,883.4 968.2,881.5 968.9,879.6 969.5,877.7 970.2,875.9 970.9,874.0 971.6,872.1 972.4,870.3 973.1,868.4 973.9,866.5 974.6,864.7 975.3,862.8 976.0,860.9 976.6,859.0 977.2,857.1 977.7,855.2 978.2,853.3 978.7,851.3 979.2,849.4 979.7,847.4 980.1,845.5 980.5,843.5 981.0,841.6 981.4,839.6 981.9,837.7 982.4,835.7 982.9,833.8 983.4,831.8 984.0,829.9 984.6,828.0 985.3,826.1 985.9,824.2 986.5,822.3 987.1,820.4 987.7,818.5 988.2,816.6 988.6,814.6 989.0,812.7 989.4,810.7 989.8,808.7 990.1,806.7 990.5,804.8 990.8,802.8 991.2,800.8 991.5,798.8 991.8,796.9 992.1,794.9 992.4,792.9 992.7,790.9 993.0,788.9 993.3,787.0 993.5,785.0 993.8,783.0 994.0,781.4" fill="none" stroke="#6c0f66" stroke-width="4.5" stroke-linejoin="round" />
<polyline points="91.4,1057.0 93.0,1057.0 95.0,1057.0 97.0,1057.0 99.0,1057.0 101.0,1056.9 103.0,1056.7 104.9,1056.3 106.8,1055.9 108.8,1055.5 110.7,1055.2 112.7,1055.0 114.7,1054.8 116.7,1054.7 118.7,1054.7 120.7,1054.6 122.7,1054.5 124.8,1054.5 126.8,1054.4 128.8,1054.4 130.8,1054.4 132.8,1054.3 134.8,1054.3 136.8,1054.3 138.8,1054.3 140.8,1054.2 142.8,1054.2 144.8,1054.2 146.8,1054.2 148.8,1054.1 150.8,1054.1 152.8,1054.1 154.8,1054.1 156.8,1054.0 158.8,1054.0 160.8,1054.0 162.8,1054.0 164.8,1053.9 166.8,1053.9 168.8,1053.8 170.8,1053.8 172.8,1053.8 174.8,1053.7 176.8,1053.7 178.8,1053.6 180.8,1053.6 182.8,1053.6 184.8,1053.5 186.8,1053.5 188.8,1053.5 190.8,1053.5 192.8,1053.4 194.8,1053.4 196.8,1053.4 198.8,1053.4 200.8,1053.4 202.8,1053.4 204.8,1053.4 206.8,1053.4 208.8,1053.5 210.8,1053.5 212.8,1053.5 214.8,1053.6 216.8,1053.6 218.8,1053.7 220.8,1053.7 222.8,1053.8 224.8,1053.8 226.8,1053.9 228.8,1053.9 230.8,1054.0 232.8,1054.0 234.9,1054.1 236.9,1054.1 238.9,1054.2 240.9,1054.2 242.9,1054.2 244.9,1054.3 246.9,1054.3 248.9,1054.3 250.9,1054.3 252.9,1054.3 254.9,1054.3 256.9,1054.3 258.9,1054.3 260.9,1054.3 262.9,1054.3 264.9,1054.3 266.9,1054.3 268.9,1054.3 270.9,1054.3 272.9,1054.3 274.9,1054.3 276.9,1054.3 278.9,1054.3 280.9,1054.3 282.9,1054.3 284.9,1054.3 286.9,1054.4 288.9,1054.4 290.9,1054.4 292.9,1054.4 294.9,1054.5 296.9,1054.5 298.9,1054.5 300.9,1054.5 302.9,1054.5 304.9,1054.5 306.9,1054.5 308.9,1054.4 310.9,1054.4 312.9,1054.3 314.9,1054.2 316.9,1054.1 318.9,1054.0 320.9,1053.9 322.9,1053.8 324.9,1053.7 326.9,1053.7 328.9,1053.6 330.9,1053.5 332.9,1053.5 334.9,1053.4 336.9,1053.3 338.9,1053.2 340.9,1053.2 342.9,1053.1 344.9,1053.1 346.9,1053.0 348.9,1053.0 350.9,1053.0 352.9,1053.0 354.9,1052.9 356.9,1052.9 358.9,1052.9 360.9,1052.8 362.9,1052.7 364.9,1052.6 366.9,1052.6 368.9,1052.5 370.9,1052.4 372.9,1052.3 374.9,1052.2 376.9,1052.1 378.9,1052.0 380.9,1052.0 382.9,1051.9 384.9,1051.8 386.9,1051.7 388.9,1051.5 390.9,1051.4 392.9,1051.3 394.9,1051.2 396.9,1051.0 398.9,1050.9 400.9,1050.7 402.9,1050.5 404.9,1050.3 406.9,1050.1 408.9,1049.9 410.9,1049.7 412.9,1049.4 414.9,1049.1 416.8,1048.8 418.8,1048.5 420.8,1048.1 422.7,1047.7 424.7,1047.3 426.7,1046.9 428.6,1046.4 430.5,1046.0 432.5,1045.4 434.4,1044.9 436.3,1044.3 438.2,1043.7 440.1,1043.0 442.0,1042.4 443.9,1041.8 445.8,1041.1 447.7,1040.4 449.6,1039.8 451.5,1039.2 453.4,1038.5 455.3,1037.9 457.2,1037.3 459.1,1036.8 461.1,1036.2 463.0,1035.7 464.9,1035.2 466.9,1034.8 468.8,1034.3 470.8,1033.9 472.8,1033.5 474.7,1033.2 476.7,1032.8 478.7,1032.5 480.7,1032.3 482.6,1032.0 484.6,1031.8 486.6,1031.6 488.6,1031.5 490.6,1031.3 492.6,1031.2 494.6,1031.1 496.6,1030.9 498.6,1030.8 500.6,1030.7 502.6,1030.6 504.6,1030.5 506.6,1030.3 508.6,1030.2 510.6,1030.1 512.6,1030.0 514.6,1029.9 516.6,1029.7 518.6,1029.6 520.6,1029.5 522.6,1029.4 524.6,1029.3 526.6,1029.2 528.6,1029.1 530.6,1029.0 532.6,1028.9 534.6,1028.9 536.6,1028.8 538.6,1028.7 540.6,1028.7 542.6,1028.6 544.6,1028.6 546.6,1028.6 548.6,1028.5 550.6,1028.5 552.6,1028.5 554.6,1028.5 556.6,1028.4 558.6,1028.4 560.6,1028.4 562.6,1028.4 564.6,1028.4 566.6,1028.3 568.6,1028.3 570.6,1028.3 572.6,1028.3 574.6,1028.3 576.6,1028.3 578.6,1028.2 580.6,1028.2 582.6,1028.2 584.6,1028.2 586.6,1028.2 588.6,1028.2 590.6,1028.2 592.7,1028.1 594.7,1028.1 596.7,1028.1 598.7,1028.1 600.7,1028.1 602.7,1028.1 604.7,1028.0 606.7,1028.0 608.7,1028.0 610.7,1028.0 612.7,1027.9 614.7,1027.9 616.7,1027.9 618.7,1027.9 620.7,1027.8 622.7,1027.8 624.7,1027.8 626.7,1027.8 628.7,1027.7 630.7,1027.7 632.7,1027.7 634.7,1027.7 636.7,1027.6 638.7,1027.6 640.7,1027.6 642.7,1027.5 644.7,1027.5 646.7,1027.5 648.7,1027.5 650.7,1027.4 652.7,1027.4 654.7,1027.4 656.7,1027.3 658.7,1027.3 660.7,1027.2 662.7,1027.2 664.7,1027.2 666.7,1027.1 668.7,1027.1 670.7,1027.0 672.7,1027.0 674.7,1026.9 676.7,1026.9 678.7,1026.8 680.7,1026.8 682.7,1026.7 684.7,1026.6 686.7,1026.6 688.7,1026.5 690.7,1026.4 692.7,1026.3 694.7,1026.3 696.7,1026.2 698.7,1026.1 700.7,1026.0 702.7,1025.9 704.7,1025.7 706.7,1025.6 708.7,1025.4 710.7,1025.3 712.7,1025.1 714.7,1024.9 716.7,1024.7 718.7,1024.4 720.7,1024.2 722.7,1023.9 724.6,1023.7 726.6,1023.4 728.6,1023.2 730.6,1022.9 732.6,1022.6 734.6,1022.4 736.6,1022.1 738.5,1021.9 740.5,1021.6 742.5,1021.4 744.5,1021.1 746.5,1020.8 748.5,1020.5 750.4,1020.2 752.4,1019.9 754.4,1019.5 756.4,1019.2 758.3,1018.8 760.3,1018.4 762.2,1018.0 764.2,1017.6 766.2,1017.2 768.1,1016.8 770.1,1016.5 772.1,1016.2 774.1,1015.9 776.0,1015.5 778.0,1015.2 780.0,1014.9 781.9,1014.4 783.9,1014.0 785.8,1013.5 787.8,1013.0 789.7,1012.5 791.6,1011.9 793.5,1011.4 795.5,1010.8 797.4,1010.2 799.3,1009.7 801.2,1009.1 803.2,1008.6 805.1,1008.1 807.0,1007.5 809.0,1007.0 810.9,1006.5 812.8,1005.9 814.7,1005.3 816.6,1004.7 818.6,1004.1 820.5,1003.5 822.3,1002.9 824.2,1002.2 826.1,1001.6 828.0,1000.9 829.9,1000.2 831.8,999.6 833.7,998.9 835.6,998.2 837.5,997.5 839.3,996.9 841.2,996.2 843.1,995.6 845.0,994.9 846.9,994.3 848.8,993.7 850.8,993.1 852.7,992.6 854.6,992.0 856.5,991.5 858.5,990.9 860.4,990.3 862.3,989.8 864.2,989.2 866.1,988.6 868.0,988.0 869.9,987.3 871.8,986.7 873.7,986.0 875.6,985.3 877.4,984.6 879.3,983.9 881.2,983.1 883.0,982.4 884.9,981.7 886.8,981.0 888.7,980.3 890.6,979.7 892.5,979.1 894.4,978.5 896.3,978.0 898.3,977.5 900.2,977.0 902.1,976.4 904.1,975.9 906.0,975.5 908.0,975.0 909.9,974.6 911.9,974.1 913.8,973.7 915.8,973.3 917.8,972.9 919.7,972.5 921.7,972.1 923.6,971.7 925.6,971.2 927.5,970.7 929.4,970.1 931.3,969.4 933.2,968.7 935.0,967.9 936.7,966.9 938.4,965.8 939.9,964.5 941.2,963.1 942.4,961.5 943.5,959.8 944.4,958.0 945.2,956.2 946.0,954.4 946.7,952.5 947.4,950.6 948.1,948.7 948.8,946.8 949.5,945.0 950.2,943.1 950.8,941.2 951.5,939.3 952.2,937.4 953.0,935.6 953.7,933.7 954.3,931.8 954.9,929.9 955.4,928.0 955.9,926.0 956.3,924.1 956.7,922.1 957.1,920.1 957.5,918.2 958.0,916.2 958.5,914.3 959.0,912.4 959.6,910.5 960.3,908.6 960.9,906.7 961.6,904.8 962.2,902.9 962.9,901.0 963.5,899.1 964.2,897.2 964.8,895.3 965.4,893.4 966.0,891.5 966.6,889.6 967.1,887.7 967.7,885.7 968.3,883.8 968.9,881.9 969.4,880.0 970.0,878.0 970.5,876.1 971.1,874.2 971.6,872.3 972.1,870.3 972.6,868.4 973.2,866.5 973.7,864.5 974.2,862.6 974.7,860.7 975.2,858.7 975.7,856.8 976.2,854.8 976.7,852.9 977.2,851.0 977.6,849.0 978.1,847.1 978.6,845.1 979.1,843.2 979.5,841.2 980.0,839.3 980.5,837.3 980.9,835.4 981.4,833.4 981.8,831.5 982.3,829.5 982.7,827.6 983.2,825.6 983.6,823.7 984.0,821.7 984.4,819.8 984.8,817.8 985.2,815.8 985.6,813.9 986.0,811.9 986.4,809.9 986.7,808.0 987.1,806.0 987.5,804.0 987.8,802.1 988.1,800.1 988.4,798.1 988.8,796.1 989.1,794.2 989.3,792.2 989.6,790.2 989.9,788.2 990.2,786.2 990.4,784.2 990.7,782.3 990.9,780.3 991.2,778.3 991.4,776.3 991.7,774.3 991.9,772.3 992.1,770.3 992.3,768.3 992.6,766.3 992.8,764.4 993.0,762.4 993.2,760.4 993.4,758.4 993.6,756.4 993.8,754.4 994.0,752.8" fill="none" stroke="#067a92" stroke-width="4.5" stroke-linejoin="round" />
<polyline points="91.4,1057.0 93.0,1057.0 95.0,1057.0 97.0,1057.0 99.0,1057.0 101.0,1056.9 103.0,1056.7 104.9,1056.3 106.9,1055.9 108.8,1055.5 110.8,1055.2 112.7,1055.0 114.7,1054.8 116.7,1054.7 118.8,1054.7 120.8,1054.6 122.8,1054.5 124.8,1054.5 126.8,1054.4 128.8,1054.4 130.8,1054.4 132.8,1054.3 134.8,1054.3 136.8,1054.3 138.8,1054.3 140.8,1054.2 142.8,1054.2 144.8,1054.2 146.8,1054.2 148.8,1054.1 150.8,1054.1 152.8,1054.1 154.8,1054.1 156.8,1054.0 158.8,1054.0 160.8,1054.0 162.8,1054.0 164.8,1053.9 166.8,1053.9 168.8,1053.9 170.8,1053.8 172.8,1053.8 174.8,1053.8 176.8,1053.8 178.8,1053.7 180.8,1053.7 182.8,1053.7 184.8,1053.7 186.8,1053.6 188.8,1053.6 190.9,1053.6 192.9,1053.5 194.9,1053.5 196.9,1053.5 198.9,1053.4 200.9,1053.4 202.9,1053.3 204.9,1053.3 206.9,1053.3 208.9,1053.2 210.9,1053.2 212.9,1053.1 214.9,1053.1 216.9,1053.0 218.9,1053.0 220.9,1052.9 222.9,1052.8 224.9,1052.8 226.9,1052.7 228.9,1052.6 230.9,1052.6 232.9,1052.5 234.9,1052.4 236.9,1052.3 238.9,1052.3 240.9,1052.2 242.9,1052.1 244.9,1051.9 246.9,1051.8 248.9,1051.7 250.9,1051.6 252.9,1051.4 254.9,1051.3 256.9,1051.1 258.9,1050.9 260.9,1050.7 262.9,1050.6 264.9,1050.4 266.9,1050.2 268.9,1050.0 270.8,1049.8 272.8,1049.5 274.8,1049.3 276.8,1049.0 278.8,1048.7 280.8,1048.4 282.7,1048.0 284.7,1047.7 286.7,1047.4 288.7,1047.0 290.6,1046.6 292.6,1046.3 294.6,1045.9 296.5,1045.5 298.5,1045.1 300.4,1044.6 302.4,1044.1 304.3,1043.7 306.3,1043.2 308.2,1042.6 310.1,1042.1 312.0,1041.6 314.0,1041.0 315.9,1040.4 317.8,1039.8 319.7,1039.3 321.6,1038.7 323.6,1038.1 325.5,1037.6 327.4,1037.0 329.3,1036.4 331.2,1035.7 333.1,1035.2 335.0,1034.6 337.0,1034.0 338.9,1033.5 340.8,1033.0 342.8,1032.5 344.7,1032.0 346.7,1031.6 348.6,1031.2 350.6,1030.8 352.6,1030.5 354.6,1030.2 356.5,1029.9 358.5,1029.7 360.5,1029.5 362.5,1029.3 364.5,1029.1 366.5,1029.0 368.5,1028.8 370.5,1028.7 372.5,1028.6 374.5,1028.5 376.5,1028.5 378.5,1028.4 380.5,1028.3 382.5,1028.3 384.5,1028.2 386.5,1028.2 388.5,1028.1 390.5,1028.1 392.5,1028.1 394.5,1028.0 396.5,1028.0 398.5,1027.9 400.5,1027.9 402.5,1027.9 404.5,1027.8 406.6,1027.8 408.6,1027.7 410.6,1027.7 412.6,1027.6 414.6,1027.6 416.6,1027.6 418.6,1027.5 420.6,1027.5 422.6,1027.5 424.6,1027.5 426.6,1027.4 428.6,1027.4 430.6,1027.4 432.6,1027.4 434.6,1027.4 436.6,1027.3 438.6,1027.3 440.6,1027.3 442.6,1027.3 444.6,1027.3 446.6,1027.3 448.6,1027.3 450.6,1027.2 452.6,1027.2 454.6,1027.2 456.6,1027.2 458.6,1027.2 460.6,1027.2 462.6,1027.2 464.6,1027.2 466.6,1027.2 468.6,1027.1 470.6,1027.1 472.6,1027.1 474.6,1027.1 476.6,1027.1 478.6,1027.1 480.7,1027.1 482.7,1027.1 484.7,1027.1 486.7,1027.1 488.7,1027.1 490.7,1027.0 492.7,1027.0 494.7,1027.0 496.7,1027.0 498.7,1027.0 500.7,1027.0 502.7,1027.0 504.7,1026.9 506.7,1026.9 508.7,1026.9 510.7,1026.8 512.7,1026.8 514.7,1026.7 516.7,1026.7 518.7,1026.6 520.7,1026.5 522.7,1026.5 524.7,1026.4 526.7,1026.3 528.7,1026.3 530.7,1026.2 532.7,1026.2 534.7,1026.1 536.7,1026.0 538.7,1026.0 540.7,1025.9 542.7,1025.8 544.7,1025.8 546.7,1025.7 548.7,1025.7 550.7,1025.6 552.7,1025.6 554.7,1025.5 556.7,1025.5 558.7,1025.4 560.7,1025.4 562.8,1025.3 564.8,1025.3 566.8,1025.2 568.8,1025.2 570.8,1025.1 572.8,1025.1 574.8,1025.0 576.8,1025.0 578.8,1024.9 580.8,1024.8 582.8,1024.8 584.8,1024.7 586.8,1024.7 588.8,1024.6 590.8,1024.5 592.8,1024.5 594.8,1024.4 596.8,1024.3 598.8,1024.2 600.8,1024.1 602.8,1024.0 604.8,1024.0 606.8,1023.9 608.8,1023.7 610.8,1023.6 612.8,1023.5 614.8,1023.3 616.8,1023.2 618.8,1023.0 620.8,1022.8 622.7,1022.6 624.7,1022.4 626.7,1022.2 628.7,1021.9 630.7,1021.7 632.7,1021.5 634.7,1021.2 636.7,1021.0 638.7,1020.8 640.7,1020.5 642.7,1020.3 644.6,1020.0 646.6,1019.8 648.6,1019.5 650.6,1019.3 652.6,1019.0 654.6,1018.7 656.6,1018.5 658.5,1018.2 660.5,1017.9 662.5,1017.6 664.5,1017.3 666.5,1017.0 668.4,1016.7 670.4,1016.4 672.4,1016.1 674.4,1015.8 676.4,1015.5 678.3,1015.2 680.3,1014.9 682.3,1014.6 684.3,1014.3 686.3,1014.0 688.2,1013.6 690.2,1013.3 692.2,1013.0 694.2,1012.6 696.1,1012.3 698.1,1012.0 700.1,1011.7 702.1,1011.3 704.0,1011.0 706.0,1010.7 708.0,1010.3 710.0,1010.0 711.9,1009.7 713.9,1009.4 715.9,1009.1 717.9,1008.7 719.8,1008.4 721.8,1008.1 723.8,1007.7 725.8,1007.4 727.7,1007.1 729.7,1006.7 731.7,1006.4 733.7,1006.0 735.6,1005.7 737.6,1005.3 739.6,1004.9 741.5,1004.5 743.5,1004.2 745.5,1003.8 747.4,1003.4 749.4,1002.9 751.3,1002.5 753.3,1002.1 755.3,1001.7 757.2,1001.2 759.2,1000.7 761.1,1000.3 763.1,999.8 765.0,999.3 766.9,998.9 768.9,998.4 770.8,997.9 772.8,997.5 774.7,997.0 776.7,996.5 778.6,996.0 780.6,995.5 782.5,994.9 784.4,994.3 786.3,993.7 788.2,993.1 790.1,992.4 791.9,991.7 793.8,991.0 795.7,990.3 797.6,989.6 799.5,988.9 801.4,988.2 803.2,987.6 805.1,986.9 807.0,986.2 808.9,985.5 810.8,984.8 812.6,984.1 814.5,983.4 816.4,982.7 818.2,981.9 820.1,981.2 821.9,980.4 823.8,979.7 825.7,979.0 827.6,978.3 829.5,977.6 831.4,977.0 833.3,976.4 835.2,975.9 837.2,975.4 839.1,975.0 841.1,974.5 843.0,974.2 845.0,973.9 847.0,973.6 849.0,973.4 851.0,973.3 853.0,973.1 855.0,973.0 857.0,972.9 859.0,972.8 861.0,972.7 863.0,972.5 865.0,972.4 867.0,972.3 869.0,972.1 871.0,972.0 873.0,971.8 875.0,971.6 877.0,971.5 879.0,971.3 881.0,971.1 883.0,970.9 885.0,970.6 886.9,970.4 888.9,970.1 890.9,969.8 892.9,969.4 894.8,969.0 896.7,968.5 898.7,967.9 900.6,967.3 902.4,966.6 904.3,965.8 906.1,965.0 907.9,964.1 909.6,963.1 911.4,962.1 913.1,961.0 914.7,959.9 916.4,958.8 918.0,957.5 919.5,956.3 921.1,955.1 922.6,953.8 924.2,952.5 925.7,951.1 927.1,949.8 928.6,948.4 930.0,947.0 931.4,945.5 932.7,944.1 934.1,942.6 935.4,941.1 936.7,939.5 938.0,938.0 939.3,936.5 940.6,934.9 941.8,933.3 943.0,931.7 944.0,930.0 944.8,928.2 945.6,926.4 946.4,924.5 947.2,922.7 948.0,920.8 948.8,919.0 949.6,917.2 950.4,915.3 951.2,913.5 952.0,911.7 952.7,909.8 953.5,908.0 954.2,906.1 954.9,904.2 955.6,902.4 956.3,900.5 957.0,898.6 957.7,896.7 958.4,894.8 959.1,892.9 959.7,891.1 960.4,889.2 961.0,887.3 961.6,885.4 962.3,883.4 962.9,881.5 963.5,879.6 964.1,877.7 964.7,875.8 965.3,873.9 965.9,872.0 966.4,870.1 967.0,868.2 967.6,866.2 968.2,864.3 968.7,862.4 969.3,860.5 969.8,858.5 970.4,856.6 970.9,854.7 971.4,852.7 971.9,850.8 972.5,848.9 973.0,846.9 973.5,845.0 974.0,843.1 974.5,841.1 975.0,839.2 975.5,837.3 976.1,835.3 976.6,833.4 977.1,831.5 977.6,829.5 978.2,827.6 978.7,825.7 979.3,823.7 979.8,821.8 980.3,819.9 980.8,817.9 981.3,816.0 981.8,814.0 982.2,812.1 982.5,810.1 982.9,808.2 983.3,806.2 983.6,804.2 983.9,802.2 984.2,800.3 984.6,798.3 984.9,796.3 985.2,794.3 985.5,792.3 985.8,790.4 986.1,788.4 986.4,786.4 986.7,784.4 987.0,782.4 987.3,780.5 987.6,778.5 987.9,776.5 988.2,774.5 988.5,772.5 988.8,770.5 989.1,768.6 989.4,766.6 989.7,764.6 990.0,762.6 990.3,760.7 990.6,758.7 990.9,756.7 991.3,754.7 991.6,752.7 991.9,750.8 992.2,748.8 992.6,746.8 992.9,744.8 993.3,742.9 993.6,740.9 993.9,739.3" fill="none" stroke="#07822f" stroke-width="4.5" stroke-linejoin="round" />
</g>
<rect x="228.4" y="1017.8" width="270.2" height="53" fill="none" stroke="#000" stroke-width="2.5"/>
<line x1="205.30" y1="931.00" x2="227.20" y2="1071.00" stroke="#000" stroke-width="2.6" stroke-dasharray="4.2 13.2"/>
<line x1="220.00" y1="927.50" x2="227.80" y2="1016.00" stroke="#000" stroke-width="2.6" stroke-dasharray="4.2 13.2"/>
<line x1="529.50" y1="932.50" x2="499.20" y2="1070.00" stroke="#000" stroke-width="2.6" stroke-dasharray="4.2 13.2"/>
<line x1="509.70" y1="928.00" x2="499.00" y2="1016.00" stroke="#000" stroke-width="2.6" stroke-dasharray="4.2 13.2"/>
<text x="86.5" y="1132.3" font-size="28.5" text-anchor="end" fill="#262626" >0</text>
<text x="86.5" y="1065.7" font-size="28.5" text-anchor="end" fill="#262626" >100</text>
<text x="86.5" y="999.0" font-size="28.5" text-anchor="end" fill="#262626" >200</text>
<text x="86.5" y="932.4" font-size="28.5" text-anchor="end" fill="#262626" >300</text>
<text x="86.5" y="865.8" font-size="28.5" text-anchor="end" fill="#262626" >400</text>
<text x="86.5" y="799.1" font-size="28.5" text-anchor="end" fill="#262626" >500</text>
<text x="86.5" y="732.5" font-size="28.5" text-anchor="end" fill="#262626" >600</text>
<text x="93.5" y="1168.8" font-size="28.5" text-anchor="middle" fill="#262626" >1</text>
<text x="273.6" y="1168.8" font-size="28.5" text-anchor="middle" fill="#262626" >0.8</text>
<text x="453.6" y="1168.8" font-size="28.5" text-anchor="middle" fill="#262626" >0.6</text>
<text x="633.6" y="1168.8" font-size="28.5" text-anchor="middle" fill="#262626" >0.4</text>
<text x="813.6" y="1168.8" font-size="28.5" text-anchor="middle" fill="#262626" >0.2</text>
<text x="993.6" y="1168.8" font-size="28.5" text-anchor="middle" fill="#262626" >0</text>
<text x="471.4" y="1207.0" font-size="35.0" fill="#262626" textLength="59.8" lengthAdjust="spacingAndGlyphs">SoC</text>
<text x="532.3" y="1212.2" font-size="25.2" fill="#262626" textLength="30.7" lengthAdjust="spacingAndGlyphs">FC</text>
<text x="577.8" y="1215.2" font-size="50.8" fill="#444" textLength="14.2" lengthAdjust="spacingAndGlyphs">/</text>
<text x="605.5" y="1207.0" font-size="35.0" fill="#262626" textLength="10.0" lengthAdjust="spacingAndGlyphs">-</text>
<g transform="translate(25.5,1134.4) rotate(-90)">
<text x="0.0" y="0.0" font-size="35.0" fill="#262626" textLength="324.8" lengthAdjust="spacingAndGlyphs">Negative half-cell pot.</text>
<text x="342.4" y="8.2" font-size="50.8" fill="#444" textLength="18.6" lengthAdjust="spacingAndGlyphs">/</text>
<text x="368.8" y="0.0" font-size="35.0" fill="#262626" textLength="54.8" lengthAdjust="spacingAndGlyphs">mV</text>
</g>
<text x="112.5" y="1120.0" font-size="35" text-anchor="start" fill="#000" textLength="314.5" lengthAdjust="spacingAndGlyphs" >b) Experiment – Cell</text>
<circle cx="456.6" cy="1109.0" r="14.7" fill="none" stroke="#000" stroke-width="1.7"/>
<text x="456.6" y="1119.7" font-size="34" text-anchor="middle" fill="#000" >1</text>
<rect x="202.7" y="745.5" width="330.0" height="171.5" fill="#fff"/>
<line x1="257.70" y1="745.50" x2="257.70" y2="917.00" stroke="#dedede" stroke-width="2.3" />
<line x1="367.70" y1="745.50" x2="367.70" y2="917.00" stroke="#dedede" stroke-width="2.3" />
<line x1="477.70" y1="745.50" x2="477.70" y2="917.00" stroke="#dedede" stroke-width="2.3" />
<line x1="202.70" y1="788.38" x2="532.70" y2="788.38" stroke="#dedede" stroke-width="2.3" />
<line x1="202.70" y1="831.25" x2="532.70" y2="831.25" stroke="#dedede" stroke-width="2.3" />
<line x1="202.70" y1="874.12" x2="532.70" y2="874.12" stroke="#dedede" stroke-width="2.3" />
<line x1="257.70" y1="917.00" x2="257.70" y2="913.40" stroke="#262626" stroke-width="2.4" />
<line x1="257.70" y1="745.50" x2="257.70" y2="749.10" stroke="#262626" stroke-width="2.4" />
<line x1="367.70" y1="917.00" x2="367.70" y2="913.40" stroke="#262626" stroke-width="2.4" />
<line x1="367.70" y1="745.50" x2="367.70" y2="749.10" stroke="#262626" stroke-width="2.4" />
<line x1="477.70" y1="917.00" x2="477.70" y2="913.40" stroke="#262626" stroke-width="2.4" />
<line x1="477.70" y1="745.50" x2="477.70" y2="749.10" stroke="#262626" stroke-width="2.4" />
<line x1="202.70" y1="745.50" x2="206.30" y2="745.50" stroke="#262626" stroke-width="2.4" />
<line x1="532.70" y1="745.50" x2="529.10" y2="745.50" stroke="#262626" stroke-width="2.4" />
<line x1="202.70" y1="788.38" x2="206.30" y2="788.38" stroke="#262626" stroke-width="2.4" />
<line x1="532.70" y1="788.38" x2="529.10" y2="788.38" stroke="#262626" stroke-width="2.4" />
<line x1="202.70" y1="831.25" x2="206.30" y2="831.25" stroke="#262626" stroke-width="2.4" />
<line x1="532.70" y1="831.25" x2="529.10" y2="831.25" stroke="#262626" stroke-width="2.4" />
<line x1="202.70" y1="874.12" x2="206.30" y2="874.12" stroke="#262626" stroke-width="2.4" />
<line x1="532.70" y1="874.12" x2="529.10" y2="874.12" stroke="#262626" stroke-width="2.4" />
<line x1="202.70" y1="917.00" x2="206.30" y2="917.00" stroke="#262626" stroke-width="2.4" />
<line x1="532.70" y1="917.00" x2="529.10" y2="917.00" stroke="#262626" stroke-width="2.4" />
<rect x="202.7" y="745.5" width="330.0" height="171.5" fill="none" stroke="#262626" stroke-width="2.4"/>
<clipPath id="ci"><rect x="201.5" y="744.3" width="332.6" height="173.9"/></clipPath>
<g clip-path="url(#ci)">
<polyline points="199.6,857.7 202.6,857.4 204.6,857.1 206.6,856.9 208.6,856.7 210.5,856.4 212.5,856.1 214.5,855.8 216.5,855.5 218.5,855.1 220.5,854.8 222.4,854.4 224.4,853.9 226.4,853.5 228.3,853.1 230.3,852.6 232.2,852.2 234.2,851.7 236.1,851.3 238.1,850.8 240.0,850.3 242.0,849.8 243.9,849.3 245.9,848.8 247.8,848.3 249.8,847.8 251.8,847.4 253.7,846.9 255.7,846.4 257.6,845.9 259.5,845.3 261.4,844.6 263.3,844.0 265.2,843.3 267.1,842.6 269.0,841.9 270.9,841.3 272.8,840.6 274.7,840.0 276.6,839.3 278.5,838.6 280.3,837.8 282.2,837.1 284.1,836.3 285.9,835.6 287.8,834.8 289.7,834.1 291.5,833.3 293.4,832.6 295.2,831.8 297.1,831.0 298.9,830.1 300.7,829.3 302.5,828.4 304.3,827.5 306.1,826.5 307.8,825.5 309.6,824.5 311.3,823.6 313.1,822.6 314.9,821.7 316.7,820.8 318.4,819.8 320.2,818.8 321.9,817.7 323.5,816.6 325.2,815.5 326.8,814.3 328.5,813.1 330.1,812.0 331.7,810.8 333.4,809.6 335.0,808.5 336.7,807.3 338.3,806.2 340.0,805.0 341.6,803.9 343.3,802.8 345.0,801.7 346.7,800.6 348.4,799.5 350.1,798.5 351.8,797.5 353.6,796.4 355.3,795.5 357.1,794.5 358.9,793.6 360.7,792.7 362.5,791.9 364.4,791.1 366.2,790.3 368.1,789.6 370.0,788.9 371.9,788.3 373.8,787.6 375.7,787.0 377.6,786.5 379.6,786.0 381.5,785.5 383.5,785.0 385.5,784.6 387.4,784.3 389.4,783.9 391.4,783.6 393.4,783.3 395.4,783.1 397.4,782.8 399.4,782.6 401.4,782.4 403.4,782.2 405.4,782.0 407.4,781.9 409.4,781.7 411.4,781.6 413.4,781.4 415.4,781.2 417.4,781.0 419.4,780.8 421.4,780.5 423.4,780.2 425.4,779.9 427.3,779.5 429.3,779.3 431.3,779.0 433.3,778.8 435.3,778.7 437.3,778.6 439.3,778.5 441.3,778.5 443.3,778.4 445.3,778.3 447.3,778.3 449.4,778.2 451.4,778.2 453.4,778.1 455.4,778.1 457.4,778.0 459.4,778.0 461.4,777.9 463.4,777.9 465.5,777.9 467.5,777.8 469.5,777.8 471.5,777.7 473.5,777.7 475.5,777.6 477.5,777.6 479.5,777.5 481.5,777.5 483.5,777.4 485.6,777.4 487.6,777.4 489.6,777.3 491.6,777.3 493.6,777.3 495.6,777.2 497.6,777.2 499.6,777.1 501.6,777.1 503.6,777.1 505.7,777.1 507.7,777.0 509.7,777.0 511.7,777.0 513.7,776.9 515.7,776.9 517.7,776.9 519.7,776.9 521.7,776.8 523.7,776.8 525.8,776.8 527.8,776.8 529.8,776.7 531.8,776.7 534.8,776.7" fill="none" stroke="#6c0f66" stroke-width="4.5" stroke-linejoin="round" />
<polyline points="199.6,863.9 202.6,863.8 204.6,863.8 206.6,863.7 208.6,863.7 210.6,863.6 212.6,863.6 214.6,863.5 216.6,863.5 218.6,863.4 220.6,863.4 222.6,863.4 224.7,863.3 226.7,863.3 228.7,863.3 230.7,863.3 232.7,863.3 234.7,863.3 236.7,863.3 238.7,863.3 240.7,863.3 242.7,863.3 244.7,863.3 246.8,863.3 248.8,863.3 250.8,863.3 252.8,863.3 254.8,863.3 256.8,863.3 258.8,863.3 260.8,863.3 262.8,863.3 264.8,863.3 266.8,863.3 268.9,863.3 270.9,863.4 272.9,863.4 274.9,863.5 276.9,863.6 278.9,863.7 280.9,863.7 282.9,863.8 284.9,863.8 286.9,863.8 288.9,863.8 291.0,863.8 293.0,863.8 295.0,863.8 297.0,863.8 299.0,863.8 301.0,863.7 303.0,863.5 305.0,863.3 307.0,863.1 309.0,862.8 311.0,862.5 313.0,862.3 315.0,862.1 317.0,861.9 319.0,861.7 321.0,861.5 323.0,861.3 325.0,861.1 327.0,860.9 329.0,860.7 331.0,860.5 333.0,860.3 335.0,860.1 337.0,860.0 339.0,859.8 341.0,859.6 343.0,859.5 345.0,859.3 347.0,859.2 349.0,859.1 351.0,859.1 353.0,859.0 355.0,858.9 357.0,858.9 359.0,858.8 361.0,858.7 363.0,858.6 365.0,858.4 367.0,858.2 369.0,858.0 371.0,857.8 373.0,857.6 375.0,857.3 377.0,857.1 379.0,856.9 381.0,856.7 383.0,856.4 385.0,856.2 387.0,856.0 389.0,855.7 391.0,855.5 393.0,855.2 395.0,855.0 397.0,854.7 399.0,854.4 400.9,854.1 402.9,853.7 404.9,853.4 406.9,853.0 408.9,852.6 410.8,852.3 412.8,851.8 414.7,851.4 416.7,850.9 418.6,850.4 420.6,849.9 422.5,849.4 424.5,848.8 426.4,848.2 428.3,847.5 430.2,846.8 432.0,846.1 433.9,845.3 435.7,844.5 437.5,843.6 439.3,842.6 441.0,841.7 442.8,840.7 444.5,839.7 446.3,838.6 448.0,837.6 449.6,836.5 451.3,835.3 452.9,834.1 454.4,832.9 456.0,831.6 457.5,830.3 459.1,829.0 460.6,827.7 462.1,826.3 463.6,825.0 465.1,823.7 466.6,822.3 468.0,820.9 469.5,819.6 471.0,818.2 472.5,816.9 474.0,815.5 475.5,814.2 477.0,812.9 478.6,811.6 480.1,810.3 481.7,809.1 483.2,807.8 484.8,806.6 486.5,805.4 488.1,804.2 489.8,803.1 491.4,802.0 493.1,800.9 494.8,799.9 496.6,798.8 498.3,797.8 500.1,796.9 501.9,796.0 503.7,795.1 505.5,794.3 507.4,793.6 509.3,792.9 511.2,792.3 513.1,791.7 515.0,791.1 517.0,790.6 518.9,790.2 520.9,789.7 522.9,789.3 524.8,789.0 526.8,788.6 528.8,788.3 530.8,788.0 532.8,787.7 535.8,787.2" fill="none" stroke="#067a92" stroke-width="4.5" stroke-linejoin="round" />
<polyline points="199.6,858.1 202.6,857.9 204.6,857.7 206.6,857.6 208.6,857.4 210.6,857.2 212.6,857.0 214.6,856.8 216.6,856.6 218.5,856.3 220.5,856.0 222.5,855.7 224.5,855.4 226.5,855.1 228.5,854.7 230.4,854.4 232.4,854.0 234.4,853.6 236.4,853.2 238.3,852.8 240.3,852.3 242.2,851.8 244.2,851.4 246.1,850.9 248.1,850.4 250.0,849.9 252.0,849.4 253.9,848.8 255.8,848.3 257.7,847.6 259.6,847.0 261.5,846.3 263.4,845.5 265.2,844.8 267.1,844.0 268.9,843.2 270.8,842.3 272.6,841.5 274.4,840.6 276.2,839.8 278.0,838.9 279.8,838.0 281.6,837.1 283.4,836.2 285.2,835.2 286.9,834.3 288.7,833.3 290.4,832.2 292.1,831.2 293.8,830.1 295.5,829.0 297.1,827.9 298.8,826.7 300.4,825.5 302.0,824.4 303.6,823.2 305.2,821.9 306.8,820.7 308.4,819.4 309.9,818.2 311.5,816.9 313.1,815.7 314.7,814.5 316.3,813.3 317.9,812.1 319.5,810.8 321.1,809.6 322.6,808.3 324.1,807.0 325.7,805.7 327.2,804.4 328.7,803.1 330.3,801.8 331.9,800.6 333.4,799.3 335.0,798.1 336.7,796.9 338.3,795.7 339.9,794.6 341.6,793.5 343.3,792.4 345.0,791.3 346.7,790.3 348.5,789.3 350.3,788.4 352.1,787.6 353.9,786.8 355.8,786.0 357.7,785.3 359.6,784.7 361.5,784.1 363.4,783.5 365.4,783.0 367.3,782.6 369.3,782.2 371.3,781.8 373.3,781.5 375.3,781.1 377.2,780.9 379.2,780.6 381.2,780.4 383.2,780.2 385.2,780.0 387.2,779.9 389.2,779.7 391.2,779.6 393.2,779.4 395.3,779.3 397.3,779.2 399.3,779.0 401.3,778.9 403.3,778.8 405.3,778.7 407.3,778.6 409.3,778.5 411.3,778.4 413.3,778.3 415.3,778.2 417.3,778.1 419.3,778.0 421.3,777.9 423.3,777.8 425.3,777.7 427.3,777.5 429.4,777.4 431.4,777.3 433.4,777.2 435.4,777.1 437.4,777.1 439.4,777.0 441.4,776.9 443.4,776.9 445.4,776.8 447.4,776.8 449.4,776.7 451.4,776.7 453.4,776.6 455.5,776.6 457.5,776.6 459.5,776.5 461.5,776.5 463.5,776.4 465.5,776.4 467.5,776.4 469.5,776.3 471.5,776.3 473.5,776.3 475.5,776.2 477.5,776.2 479.6,776.2 481.6,776.1 483.6,776.1 485.6,776.1 487.6,776.0 489.6,776.0 491.6,776.0 493.6,776.0 495.6,775.9 497.6,775.9 499.6,775.9 501.7,775.8 503.7,775.8 505.7,775.8 507.7,775.8 509.7,775.7 511.7,775.7 513.7,775.7 515.7,775.7 517.7,775.6 519.7,775.6 521.7,775.6 523.7,775.6 525.8,775.5 527.8,775.5 529.8,775.5 531.8,775.5 534.8,775.4" fill="none" stroke="#07822f" stroke-width="4.5" stroke-linejoin="round" />
</g>
<text x="196.3" y="753.1" font-size="28.5" text-anchor="end" fill="#262626" >160</text>
<text x="196.3" y="796.0" font-size="28.5" text-anchor="end" fill="#262626" >140</text>
<text x="196.3" y="838.9" font-size="28.5" text-anchor="end" fill="#262626" >120</text>
<text x="196.3" y="881.7" font-size="28.5" text-anchor="end" fill="#262626" >100</text>
<text x="196.3" y="924.6" font-size="28.5" text-anchor="end" fill="#262626" >80</text>
<text x="257.7" y="947.8" font-size="28.5" text-anchor="middle" fill="#262626" >0.8</text>
<text x="367.7" y="947.8" font-size="28.5" text-anchor="middle" fill="#262626" >0.7</text>
<text x="477.7" y="947.8" font-size="28.5" text-anchor="middle" fill="#262626" >0.6</text>
<line x1="571.00" y1="823.00" x2="500.20" y2="823.00" stroke="#067a92" stroke-width="3.5" />
<polygon points="481.4,823.0 507.2,813.2 500.2,823.0 507.2,832.8" fill="#067a92" stroke="#067a92" stroke-width="1.6" stroke-linejoin="round"/>
<text x="587.0" y="830.0" font-size="28.5" text-anchor="start" fill="#067a92" textLength="85.0" lengthAdjust="spacingAndGlyphs" >Center</text>
<line x1="273.56" y1="1250.80" x2="273.56" y2="1676.50" stroke="#dedede" stroke-width="2.3" />
<line x1="453.57" y1="1250.80" x2="453.57" y2="1676.50" stroke="#dedede" stroke-width="2.3" />
<line x1="633.58" y1="1250.80" x2="633.58" y2="1676.50" stroke="#dedede" stroke-width="2.3" />
<line x1="813.59" y1="1250.80" x2="813.59" y2="1676.50" stroke="#dedede" stroke-width="2.3" />
<line x1="93.55" y1="1663.80" x2="993.60" y2="1663.80" stroke="#dedede" stroke-width="2.3" />
<line x1="93.55" y1="1597.17" x2="993.60" y2="1597.17" stroke="#dedede" stroke-width="2.3" />
<line x1="93.55" y1="1530.54" x2="993.60" y2="1530.54" stroke="#dedede" stroke-width="2.3" />
<line x1="93.55" y1="1463.91" x2="993.60" y2="1463.91" stroke="#dedede" stroke-width="2.3" />
<line x1="93.55" y1="1397.28" x2="993.60" y2="1397.28" stroke="#dedede" stroke-width="2.3" />
<line x1="93.55" y1="1330.65" x2="993.60" y2="1330.65" stroke="#dedede" stroke-width="2.3" />
<line x1="93.55" y1="1264.02" x2="993.60" y2="1264.02" stroke="#dedede" stroke-width="2.3" />
<line x1="93.55" y1="1676.50" x2="93.55" y2="1666.50" stroke="#262626" stroke-width="2.7" />
<line x1="93.55" y1="1250.80" x2="93.55" y2="1260.80" stroke="#262626" stroke-width="2.7" />
<line x1="273.56" y1="1676.50" x2="273.56" y2="1666.50" stroke="#262626" stroke-width="2.7" />
<line x1="273.56" y1="1250.80" x2="273.56" y2="1260.80" stroke="#262626" stroke-width="2.7" />
<line x1="453.57" y1="1676.50" x2="453.57" y2="1666.50" stroke="#262626" stroke-width="2.7" />
<line x1="453.57" y1="1250.80" x2="453.57" y2="1260.80" stroke="#262626" stroke-width="2.7" />
<line x1="633.58" y1="1676.50" x2="633.58" y2="1666.50" stroke="#262626" stroke-width="2.7" />
<line x1="633.58" y1="1250.80" x2="633.58" y2="1260.80" stroke="#262626" stroke-width="2.7" />
<line x1="813.59" y1="1676.50" x2="813.59" y2="1666.50" stroke="#262626" stroke-width="2.7" />
<line x1="813.59" y1="1250.80" x2="813.59" y2="1260.80" stroke="#262626" stroke-width="2.7" />
<line x1="993.60" y1="1676.50" x2="993.60" y2="1666.50" stroke="#262626" stroke-width="2.7" />
<line x1="993.60" y1="1250.80" x2="993.60" y2="1260.80" stroke="#262626" stroke-width="2.7" />
<line x1="93.55" y1="1663.80" x2="103.55" y2="1663.80" stroke="#262626" stroke-width="2.7" />
<line x1="993.60" y1="1663.80" x2="983.60" y2="1663.80" stroke="#262626" stroke-width="2.7" />
<line x1="93.55" y1="1597.17" x2="103.55" y2="1597.17" stroke="#262626" stroke-width="2.7" />
<line x1="993.60" y1="1597.17" x2="983.60" y2="1597.17" stroke="#262626" stroke-width="2.7" />
<line x1="93.55" y1="1530.54" x2="103.55" y2="1530.54" stroke="#262626" stroke-width="2.7" />
<line x1="993.60" y1="1530.54" x2="983.60" y2="1530.54" stroke="#262626" stroke-width="2.7" />
<line x1="93.55" y1="1463.91" x2="103.55" y2="1463.91" stroke="#262626" stroke-width="2.7" />
<line x1="993.60" y1="1463.91" x2="983.60" y2="1463.91" stroke="#262626" stroke-width="2.7" />
<line x1="93.55" y1="1397.28" x2="103.55" y2="1397.28" stroke="#262626" stroke-width="2.7" />
<line x1="993.60" y1="1397.28" x2="983.60" y2="1397.28" stroke="#262626" stroke-width="2.7" />
<line x1="93.55" y1="1330.65" x2="103.55" y2="1330.65" stroke="#262626" stroke-width="2.7" />
<line x1="993.60" y1="1330.65" x2="983.60" y2="1330.65" stroke="#262626" stroke-width="2.7" />
<line x1="93.55" y1="1264.02" x2="103.55" y2="1264.02" stroke="#262626" stroke-width="2.7" />
<line x1="993.60" y1="1264.02" x2="983.60" y2="1264.02" stroke="#262626" stroke-width="2.7" />
<rect x="93.5" y="1250.8" width="900.1" height="425.7" fill="none" stroke="#262626" stroke-width="2.7"/>
<clipPath id="cc"><rect x="92.1" y="1249.4" width="903.5" height="428.5"/></clipPath>
<g clip-path="url(#cc)">
<polyline points="91.9,1606.2 93.4,1605.8 95.3,1605.2 97.2,1604.6 99.1,1604.2 101.1,1604.0 103.0,1603.9 105.0,1603.9 107.0,1603.8 109.0,1603.8 111.0,1603.8 113.0,1603.7 115.0,1603.7 117.0,1603.7 119.0,1603.7 121.0,1603.7 123.0,1603.6 125.0,1603.6 127.0,1603.6 129.1,1603.6 131.1,1603.6 133.1,1603.6 135.1,1603.6 137.2,1603.6 139.2,1603.5 141.2,1603.5 143.2,1603.5 145.2,1603.5 147.2,1603.5 149.2,1603.4 151.2,1603.4 153.2,1603.4 155.2,1603.4 157.2,1603.4 159.2,1603.4 161.2,1603.3 163.2,1603.3 165.2,1603.3 167.2,1603.3 169.2,1603.3 171.2,1603.2 173.2,1603.2 175.2,1603.2 177.2,1603.2 179.2,1603.2 181.2,1603.2 183.3,1603.1 185.3,1603.1 187.3,1603.1 189.3,1603.1 191.3,1603.1 193.3,1603.0 195.3,1603.0 197.3,1603.0 199.3,1603.0 201.3,1603.0 203.3,1602.9 205.3,1602.9 207.3,1602.9 209.3,1602.9 211.3,1602.9 213.3,1602.8 215.3,1602.8 217.3,1602.8 219.3,1602.8 221.3,1602.8 223.3,1602.7 225.3,1602.7 227.3,1602.7 229.3,1602.7 231.3,1602.7 233.3,1602.6 235.3,1602.6 237.3,1602.6 239.3,1602.6 241.3,1602.5 243.3,1602.5 245.3,1602.5 247.3,1602.5 249.3,1602.5 251.4,1602.4 253.4,1602.4 255.4,1602.4 257.4,1602.4 259.4,1602.3 261.4,1602.3 263.4,1602.3 265.4,1602.3 267.4,1602.3 269.4,1602.2 271.4,1602.2 273.4,1602.2 275.4,1602.2 277.4,1602.1 279.4,1602.1 281.4,1602.1 283.4,1602.1 285.4,1602.1 287.4,1602.0 289.4,1602.0 291.4,1602.0 293.4,1602.0 295.4,1602.0 297.4,1601.9 299.4,1601.9 301.4,1601.9 303.4,1601.9 305.4,1601.8 307.4,1601.8 309.4,1601.8 311.4,1601.8 313.4,1601.7 315.4,1601.7 317.4,1601.6 319.4,1601.6 321.5,1601.6 323.5,1601.5 325.5,1601.5 327.5,1601.4 329.5,1601.3 331.5,1601.2 333.5,1601.2 335.5,1601.1 337.5,1601.0 339.5,1600.8 341.5,1600.7 343.5,1600.6 345.5,1600.5 347.5,1600.3 349.5,1600.2 351.5,1600.0 353.5,1599.8 355.4,1599.6 357.4,1599.4 359.4,1599.1 361.4,1598.7 363.4,1598.4 365.3,1598.0 367.3,1597.5 369.2,1596.9 371.1,1596.3 372.9,1595.6 374.8,1594.8 376.6,1594.0 378.4,1593.1 380.2,1592.2 382.0,1591.3 383.8,1590.4 385.6,1589.6 387.5,1588.8 389.4,1588.1 391.3,1587.5 393.2,1587.0 395.1,1586.5 397.1,1586.1 399.0,1585.7 401.0,1585.3 403.0,1584.9 405.0,1584.6 406.9,1584.3 408.9,1584.0 410.9,1583.8 412.9,1583.5 414.9,1583.3 416.9,1583.1 418.9,1582.9 420.9,1582.7 422.9,1582.6 424.9,1582.4 426.9,1582.3 428.9,1582.2 430.9,1582.0 432.9,1581.9 434.9,1581.8 436.9,1581.7 438.9,1581.6 440.9,1581.5 442.9,1581.4 444.9,1581.3 446.9,1581.2 448.9,1581.2 450.9,1581.1 452.9,1581.0 454.9,1581.0 456.9,1580.9 458.9,1580.8 460.9,1580.8 462.9,1580.7 464.9,1580.7 466.9,1580.6 468.9,1580.5 470.9,1580.5 472.9,1580.4 474.9,1580.4 476.9,1580.4 478.9,1580.3 480.9,1580.3 482.9,1580.2 484.9,1580.2 486.9,1580.2 488.9,1580.1 490.9,1580.1 492.9,1580.0 494.9,1580.0 496.9,1580.0 498.9,1580.0 500.9,1579.9 502.9,1579.9 504.9,1579.9 506.9,1579.9 509.0,1579.8 511.0,1579.8 513.0,1579.8 515.0,1579.8 517.0,1579.7 519.0,1579.7 521.0,1579.7 523.0,1579.7 525.0,1579.7 527.0,1579.6 529.0,1579.6 531.0,1579.6 533.0,1579.6 535.0,1579.6 537.0,1579.5 539.0,1579.5 541.0,1579.5 543.0,1579.5 545.0,1579.5 547.0,1579.5 549.0,1579.4 551.0,1579.4 553.0,1579.4 555.0,1579.4 557.0,1579.4 559.0,1579.3 561.0,1579.3 563.0,1579.3 565.0,1579.3 567.0,1579.3 569.0,1579.2 571.0,1579.2 573.0,1579.2 575.1,1579.2 577.1,1579.2 579.1,1579.2 581.1,1579.1 583.1,1579.1 585.1,1579.1 587.1,1579.1 589.1,1579.1 591.1,1579.0 593.1,1579.0 595.1,1579.0 597.1,1579.0 599.1,1579.0 601.1,1579.0 603.1,1578.9 605.1,1578.9 607.1,1578.9 609.1,1578.9 611.1,1578.9 613.1,1578.8 615.1,1578.8 617.1,1578.8 619.1,1578.8 621.1,1578.7 623.1,1578.7 625.1,1578.7 627.1,1578.7 629.1,1578.6 631.1,1578.6 633.1,1578.6 635.1,1578.6 637.1,1578.5 639.1,1578.5 641.1,1578.4 643.1,1578.4 645.2,1578.4 647.2,1578.3 649.2,1578.3 651.2,1578.2 653.2,1578.2 655.2,1578.2 657.2,1578.1 659.2,1578.1 661.2,1578.0 663.2,1578.0 665.2,1577.9 667.2,1577.9 669.2,1577.8 671.2,1577.8 673.2,1577.7 675.2,1577.7 677.2,1577.6 679.2,1577.6 681.2,1577.5 683.2,1577.5 685.2,1577.4 687.2,1577.4 689.2,1577.3 691.2,1577.2 693.2,1577.2 695.2,1577.1 697.2,1577.0 699.2,1576.9 701.2,1576.8 703.2,1576.7 705.2,1576.5 707.2,1576.4 709.2,1576.2 711.2,1576.1 713.2,1575.9 715.2,1575.8 717.2,1575.7 719.2,1575.6 721.2,1575.5 723.2,1575.4 725.2,1575.3 727.2,1575.2 729.2,1575.0 731.2,1574.9 733.2,1574.8 735.2,1574.6 737.2,1574.5 739.2,1574.3 741.2,1574.1 743.2,1573.8 745.2,1573.6 747.2,1573.3 749.1,1572.9 751.1,1572.5 753.0,1572.0 754.9,1571.5 756.8,1570.8 758.7,1570.1 760.5,1569.3 762.4,1568.5 764.2,1567.7 766.0,1566.8 767.8,1566.0 769.7,1565.2 771.5,1564.4 773.4,1563.7 775.3,1563.1 777.2,1562.5 779.1,1561.9 781.0,1561.4 783.0,1560.9 784.9,1560.4 786.9,1559.9 788.8,1559.3 790.7,1558.8 792.6,1558.1 794.5,1557.5 796.4,1556.8 798.2,1556.0 800.1,1555.3 801.9,1554.5 803.8,1553.7 805.6,1552.9 807.4,1552.0 809.2,1551.2 811.1,1550.4 812.9,1549.5 814.7,1548.7 816.5,1547.8 818.3,1546.9 820.1,1546.0 821.9,1545.1 823.7,1544.2 825.5,1543.3 827.3,1542.4 829.0,1541.5 830.8,1540.6 832.6,1539.7 834.4,1538.8 836.2,1537.9 838.0,1536.9 839.7,1536.0 841.5,1535.0 843.3,1534.1 845.1,1533.2 846.9,1532.3 848.7,1531.4 850.5,1530.6 852.3,1529.8 854.2,1529.1 856.0,1528.4 857.9,1527.7 859.8,1527.1 861.8,1526.5 863.7,1525.9 865.6,1525.4 867.6,1525.0 869.5,1524.6 871.5,1524.2 873.5,1523.9 875.5,1523.6 877.4,1523.3 879.4,1523.2 881.4,1523.0 883.4,1522.9 885.4,1522.8 887.4,1522.7 889.4,1522.6 891.4,1522.5 893.4,1522.5 895.4,1522.4 897.4,1522.3 899.4,1522.2 901.4,1522.1 903.4,1522.0 905.4,1521.9 907.4,1521.8 909.4,1521.6 911.4,1521.5 913.4,1521.3 915.4,1521.2 917.4,1521.0 919.4,1520.9 921.4,1520.7 923.4,1520.5 925.4,1520.4 927.4,1520.2 929.4,1520.0 931.4,1519.7 933.4,1519.3 935.3,1518.8 937.1,1518.1 938.9,1517.3 940.6,1516.2 942.2,1515.1 943.7,1513.7 945.0,1512.2 946.2,1510.6 947.3,1509.0 948.3,1507.2 949.2,1505.5 950.1,1503.7 951.0,1501.8 951.8,1500.0 952.5,1498.2 953.3,1496.3 954.1,1494.4 954.8,1492.6 955.5,1490.7 956.2,1488.8 956.9,1486.9 957.5,1485.1 958.2,1483.2 958.8,1481.3 959.4,1479.4 960.1,1477.5 960.7,1475.5 961.3,1473.6 961.9,1471.7 962.5,1469.8 963.1,1467.9 963.7,1466.0 964.3,1464.1 964.8,1462.2 965.4,1460.2 965.9,1458.3 966.4,1456.4 967.0,1454.4 967.5,1452.5 968.0,1450.6 968.5,1448.6 969.0,1446.7 969.4,1444.7 969.9,1442.8 970.4,1440.8 970.9,1438.9 971.3,1436.9 971.8,1435.0 972.2,1433.0 972.7,1431.1 973.1,1429.1 973.5,1427.2 974.0,1425.2 974.4,1423.3 974.8,1421.3 975.2,1419.3 975.6,1417.4 976.0,1415.4 976.4,1413.4 976.8,1411.5 977.1,1409.5 977.5,1407.5 977.9,1405.6 978.3,1403.6 978.7,1401.6 979.1,1399.7 979.4,1397.7 979.8,1395.7 980.1,1393.8 980.5,1391.8 980.8,1389.8 981.2,1387.8 981.5,1385.9 981.8,1383.9 982.1,1381.9 982.4,1379.9 982.8,1378.0 983.1,1376.0 983.4,1374.0 983.7,1372.0 984.0,1370.0 984.3,1368.1 984.6,1366.1 984.9,1364.1 985.2,1362.1 985.5,1360.1 985.8,1358.2 986.1,1356.2 986.4,1354.2 986.7,1352.2 987.0,1350.2 987.3,1348.3 987.6,1346.3 987.9,1344.3 988.2,1342.3 988.5,1340.3 988.8,1338.4 989.1,1336.4 989.4,1334.4 989.7,1332.4 989.9,1330.4 990.2,1328.4 990.4,1326.4 990.6,1324.5 990.8,1322.5 991.1,1320.5 991.3,1318.5 991.4,1316.5 991.6,1314.5 991.8,1312.5 992.0,1310.5 992.1,1308.5 992.3,1306.5 992.4,1304.5 992.5,1302.5 992.7,1300.5 992.8,1298.5 992.9,1296.5 993.1,1294.5 993.2,1292.5 993.3,1290.5 993.4,1288.5 993.5,1286.5 993.6,1284.5 993.7,1282.5 993.8,1280.5 993.9,1278.5 993.9,1276.5 994.0,1274.5 994.1,1272.9" fill="none" stroke="#067a92" stroke-width="4.5" stroke-linejoin="round" />
<polyline points="92.0,1600.2 93.4,1599.4 95.1,1598.4 96.8,1597.3 98.5,1596.3 100.2,1595.2 102.0,1594.2 103.7,1593.2 105.4,1592.2 107.2,1591.2 109.0,1590.4 110.8,1589.6 112.7,1588.9 114.6,1588.3 116.5,1587.8 118.5,1587.3 120.4,1586.9 122.4,1586.5 124.4,1586.1 126.4,1585.8 128.3,1585.5 130.3,1585.2 132.3,1584.9 134.3,1584.7 136.3,1584.5 138.3,1584.3 140.3,1584.1 142.3,1583.9 144.3,1583.7 146.3,1583.6 148.3,1583.4 150.3,1583.3 152.3,1583.2 154.3,1583.0 156.3,1582.9 158.3,1582.8 160.3,1582.7 162.3,1582.6 164.3,1582.5 166.3,1582.4 168.3,1582.3 170.3,1582.2 172.3,1582.1 174.3,1582.0 176.3,1581.9 178.3,1581.8 180.3,1581.7 182.3,1581.7 184.3,1581.6 186.3,1581.5 188.3,1581.4 190.3,1581.4 192.3,1581.3 194.3,1581.2 196.3,1581.2 198.3,1581.1 200.3,1581.0 202.3,1581.0 204.3,1580.9 206.3,1580.8 208.3,1580.8 210.3,1580.7 212.3,1580.7 214.3,1580.6 216.3,1580.6 218.3,1580.5 220.3,1580.5 222.3,1580.4 224.3,1580.4 226.3,1580.4 228.3,1580.3 230.3,1580.3 232.3,1580.2 234.3,1580.2 236.3,1580.1 238.3,1580.1 240.3,1580.1 242.3,1580.0 244.4,1580.0 246.4,1579.9 248.4,1579.9 250.4,1579.9 252.4,1579.8 254.4,1579.8 256.4,1579.8 258.4,1579.7 260.4,1579.7 262.4,1579.7 264.4,1579.6 266.4,1579.6 268.4,1579.6 270.4,1579.5 272.4,1579.5 274.4,1579.5 276.4,1579.4 278.4,1579.4 280.4,1579.4 282.4,1579.3 284.4,1579.3 286.4,1579.3 288.4,1579.2 290.4,1579.2 292.4,1579.2 294.4,1579.1 296.4,1579.1 298.4,1579.1 300.4,1579.0 302.4,1579.0 304.4,1579.0 306.4,1579.0 308.4,1578.9 310.5,1578.9 312.5,1578.9 314.5,1578.8 316.5,1578.8 318.5,1578.8 320.5,1578.8 322.5,1578.7 324.5,1578.7 326.5,1578.7 328.5,1578.7 330.5,1578.7 332.5,1578.6 334.5,1578.6 336.5,1578.6 338.5,1578.6 340.5,1578.6 342.5,1578.5 344.5,1578.5 346.5,1578.5 348.5,1578.5 350.5,1578.5 352.5,1578.5 354.5,1578.4 356.5,1578.4 358.5,1578.4 360.5,1578.4 362.5,1578.4 364.5,1578.4 366.5,1578.3 368.5,1578.3 370.5,1578.3 372.6,1578.3 374.6,1578.3 376.6,1578.3 378.6,1578.3 380.6,1578.3 382.6,1578.2 384.6,1578.2 386.6,1578.2 388.6,1578.2 390.6,1578.2 392.6,1578.2 394.6,1578.2 396.6,1578.2 398.6,1578.2 400.6,1578.2 402.6,1578.2 404.6,1578.2 406.6,1578.3 408.6,1578.3 410.6,1578.3 412.6,1578.3 414.6,1578.3 416.6,1578.3 418.6,1578.2 420.6,1578.2 422.6,1578.1 424.6,1578.1 426.6,1578.0 428.6,1578.0 430.6,1577.9 432.6,1577.8 434.6,1577.7 436.6,1577.7 438.7,1577.6 440.7,1577.5 442.7,1577.4 444.7,1577.3 446.7,1577.2 448.7,1577.1 450.7,1577.0 452.7,1576.9 454.7,1576.8 456.7,1576.7 458.7,1576.6 460.7,1576.5 462.7,1576.4 464.7,1576.3 466.7,1576.1 468.7,1576.0 470.7,1575.9 472.7,1575.7 474.7,1575.6 476.7,1575.4 478.6,1575.2 480.6,1575.0 482.6,1574.9 484.6,1574.7 486.6,1574.4 488.6,1574.2 490.6,1574.0 492.6,1573.7 494.6,1573.5 496.6,1573.2 498.5,1572.9 500.5,1572.6 502.5,1572.3 504.5,1571.9 506.4,1571.5 508.4,1571.1 510.4,1570.7 512.3,1570.2 514.3,1569.8 516.2,1569.3 518.2,1568.9 520.1,1568.4 522.0,1567.9 524.0,1567.4 525.9,1566.9 527.9,1566.4 529.8,1565.9 531.8,1565.4 533.7,1565.0 535.7,1564.6 537.6,1564.2 539.6,1563.8 541.6,1563.4 543.5,1563.1 545.5,1562.7 547.5,1562.4 549.5,1562.1 551.4,1561.7 553.4,1561.4 555.4,1561.1 557.4,1560.8 559.4,1560.4 561.3,1560.1 563.3,1559.7 565.3,1559.3 567.2,1558.9 569.2,1558.5 571.1,1558.1 573.1,1557.7 575.1,1557.3 577.0,1556.9 579.0,1556.4 580.9,1556.0 582.9,1555.5 584.8,1555.1 586.8,1554.6 588.7,1554.2 590.7,1553.7 592.6,1553.3 594.6,1552.9 596.6,1552.4 598.5,1552.0 600.5,1551.6 602.4,1551.1 604.4,1550.7 606.3,1550.2 608.3,1549.8 610.2,1549.4 612.2,1548.9 614.2,1548.5 616.1,1548.1 618.1,1547.6 620.0,1547.2 622.0,1546.8 623.9,1546.3 625.9,1545.9 627.8,1545.5 629.8,1545.1 631.8,1544.7 633.7,1544.2 635.7,1543.8 637.7,1543.4 639.6,1543.0 641.6,1542.6 643.5,1542.2 645.5,1541.8 647.5,1541.4 649.4,1541.0 651.4,1540.6 653.4,1540.2 655.3,1539.9 657.3,1539.5 659.3,1539.1 661.2,1538.7 663.2,1538.3 665.2,1538.0 667.1,1537.6 669.1,1537.2 671.1,1536.9 673.0,1536.5 675.0,1536.1 677.0,1535.8 679.0,1535.4 680.9,1535.1 682.9,1534.7 684.9,1534.4 686.8,1534.0 688.8,1533.7 690.8,1533.3 692.8,1533.0 694.7,1532.6 696.7,1532.3 698.7,1531.9 700.7,1531.6 702.6,1531.2 704.6,1530.9 706.6,1530.5 708.5,1530.2 710.5,1529.8 712.5,1529.6 714.5,1529.3 716.5,1529.0 718.5,1528.8 720.4,1528.6 722.4,1528.4 724.4,1528.2 726.4,1528.0 728.4,1527.8 730.4,1527.6 732.4,1527.4 734.4,1527.2 736.4,1527.0 738.4,1526.9 740.4,1526.7 742.4,1526.5 744.4,1526.4 746.4,1526.2 748.4,1526.1 750.4,1525.9 752.4,1525.8 754.4,1525.6 756.4,1525.5 758.4,1525.4 760.4,1525.2 762.4,1525.1 764.4,1525.0 766.4,1524.9 768.4,1524.7 770.4,1524.6 772.4,1524.5 774.4,1524.3 776.4,1524.2 778.4,1524.0 780.4,1523.9 782.4,1523.7 784.4,1523.6 786.4,1523.5 788.4,1523.3 790.4,1523.2 792.4,1523.0 794.4,1522.9 796.4,1522.7 798.3,1522.5 800.3,1522.3 802.3,1522.1 804.3,1521.9 806.3,1521.7 808.3,1521.4 810.3,1521.2 812.3,1520.9 814.3,1520.6 816.2,1520.2 818.2,1519.8 820.1,1519.2 822.0,1518.6 823.8,1517.9 825.7,1517.2 827.5,1516.4 829.4,1515.5 831.2,1514.7 833.1,1513.9 834.9,1513.0 836.7,1512.2 838.5,1511.3 840.3,1510.5 842.1,1509.6 843.9,1508.7 845.7,1507.8 847.5,1506.9 849.3,1506.0 851.0,1505.0 852.8,1504.1 854.6,1503.1 856.4,1502.2 858.1,1501.3 859.9,1500.3 861.7,1499.4 863.4,1498.4 865.2,1497.4 866.9,1496.4 868.7,1495.5 870.4,1494.5 872.1,1493.4 873.9,1492.4 875.6,1491.4 877.2,1490.3 878.9,1489.2 880.6,1488.1 882.2,1487.0 883.9,1485.9 885.5,1484.8 887.2,1483.6 888.8,1482.4 890.4,1481.3 892.0,1480.1 893.6,1478.9 895.2,1477.7 896.8,1476.5 898.4,1475.2 900.0,1474.0 901.6,1472.8 903.2,1471.5 904.7,1470.2 906.3,1469.0 907.9,1467.7 909.4,1466.4 911.0,1465.2 912.5,1463.9 914.1,1462.6 915.6,1461.3 917.1,1460.0 918.7,1458.7 920.2,1457.4 921.7,1456.1 923.2,1454.8 924.7,1453.5 926.2,1452.1 927.6,1450.7 929.1,1449.3 930.5,1447.9 931.9,1446.5 933.3,1445.1 934.7,1443.7 936.1,1442.2 937.5,1440.8 938.9,1439.3 940.2,1437.8 941.6,1436.4 942.9,1434.8 944.2,1433.3 945.5,1431.8 946.7,1430.2 948.0,1428.6 949.2,1427.0 950.4,1425.4 951.5,1423.8 952.7,1422.2 953.8,1420.5 954.9,1418.8 956.0,1417.2 957.1,1415.5 958.1,1413.8 959.2,1412.1 960.3,1410.4 961.3,1408.7 962.4,1406.9 963.4,1405.2 964.4,1403.5 965.4,1401.8 966.4,1400.0 967.3,1398.2 968.2,1396.5 969.1,1394.7 970.0,1392.9 970.9,1391.1 971.8,1389.3 972.6,1387.5 973.5,1385.7 974.3,1383.8 975.1,1382.0 975.9,1380.1 976.6,1378.3 977.2,1376.4 977.9,1374.5 978.5,1372.6 979.1,1370.7 979.8,1368.8 980.4,1366.9 981.0,1365.0 981.7,1363.1 982.4,1361.2 983.0,1359.3 983.6,1357.4 984.2,1355.5 984.8,1353.6 985.3,1351.6 985.9,1349.7 986.4,1347.8 986.9,1345.8 987.3,1343.9 987.8,1341.9 988.2,1340.0 988.7,1338.0 989.1,1336.1 989.5,1334.1 990.0,1332.1 990.4,1330.2 990.8,1328.2 991.2,1326.3 991.6,1324.3 992.0,1322.3 992.4,1320.4 992.7,1318.4 993.1,1316.4 993.5,1314.5 993.8,1312.5 994.1,1310.9" fill="none" stroke="#07822f" stroke-width="4.5" stroke-linejoin="round" />
</g>
<text x="86.5" y="1671.8" font-size="28.5" text-anchor="end" fill="#262626" >0</text>
<text x="86.5" y="1605.2" font-size="28.5" text-anchor="end" fill="#262626" >100</text>
<text x="86.5" y="1538.5" font-size="28.5" text-anchor="end" fill="#262626" >200</text>
<text x="86.5" y="1471.9" font-size="28.5" text-anchor="end" fill="#262626" >300</text>
<text x="86.5" y="1405.3" font-size="28.5" text-anchor="end" fill="#262626" >400</text>
<text x="86.5" y="1338.7" font-size="28.5" text-anchor="end" fill="#262626" >500</text>
<text x="86.5" y="1272.0" font-size="28.5" text-anchor="end" fill="#262626" >600</text>
<text x="93.5" y="1708.3" font-size="28.5" text-anchor="middle" fill="#262626" >1</text>
<text x="273.6" y="1708.3" font-size="28.5" text-anchor="middle" fill="#262626" >0.8</text>
<text x="453.6" y="1708.3" font-size="28.5" text-anchor="middle" fill="#262626" >0.6</text>
<text x="633.6" y="1708.3" font-size="28.5" text-anchor="middle" fill="#262626" >0.4</text>
<text x="813.6" y="1708.3" font-size="28.5" text-anchor="middle" fill="#262626" >0.2</text>
<text x="993.6" y="1708.3" font-size="28.5" text-anchor="middle" fill="#262626" >0</text>
<text x="471.4" y="1747.0" font-size="35.0" fill="#262626" textLength="59.8" lengthAdjust="spacingAndGlyphs">SoC</text>
<text x="532.3" y="1752.2" font-size="25.2" fill="#262626" textLength="30.7" lengthAdjust="spacingAndGlyphs">FC</text>
<text x="577.8" y="1755.2" font-size="50.8" fill="#444" textLength="14.2" lengthAdjust="spacingAndGlyphs">/</text>
<text x="605.5" y="1747.0" font-size="35.0" fill="#262626" textLength="10.0" lengthAdjust="spacingAndGlyphs">-</text>
<g transform="translate(25.5,1674.4) rotate(-90)">
<text x="0.0" y="0.0" font-size="35.0" fill="#262626" textLength="324.8" lengthAdjust="spacingAndGlyphs">Negative half-cell pot.</text>
<text x="342.4" y="8.2" font-size="50.8" fill="#444" textLength="18.6" lengthAdjust="spacingAndGlyphs">/</text>
<text x="368.8" y="0.0" font-size="35.0" fill="#262626" textLength="54.8" lengthAdjust="spacingAndGlyphs">mV</text>
</g>
<text x="112.0" y="1660.0" font-size="35" text-anchor="start" fill="#000" textLength="200.0" lengthAdjust="spacingAndGlyphs" >c) Simulation</text>
<line x1="260.25" y1="1792.70" x2="260.25" y2="2218.30" stroke="#dedede" stroke-width="2.3" />
<line x1="426.95" y1="1792.70" x2="426.95" y2="2218.30" stroke="#dedede" stroke-width="2.3" />
<line x1="593.65" y1="1792.70" x2="593.65" y2="2218.30" stroke="#dedede" stroke-width="2.3" />
<line x1="760.35" y1="1792.70" x2="760.35" y2="2218.30" stroke="#dedede" stroke-width="2.3" />
<line x1="927.05" y1="1792.70" x2="927.05" y2="2218.30" stroke="#dedede" stroke-width="2.3" />
<line x1="93.55" y1="2133.18" x2="993.60" y2="2133.18" stroke="#dedede" stroke-width="2.3" />
<line x1="93.55" y1="2048.06" x2="993.60" y2="2048.06" stroke="#dedede" stroke-width="2.3" />
<line x1="93.55" y1="1962.94" x2="993.60" y2="1962.94" stroke="#dedede" stroke-width="2.3" />
<line x1="93.55" y1="1877.82" x2="993.60" y2="1877.82" stroke="#dedede" stroke-width="2.3" />
<line x1="93.55" y1="2218.30" x2="93.55" y2="2208.30" stroke="#262626" stroke-width="2.7" />
<line x1="93.55" y1="1792.70" x2="93.55" y2="1802.70" stroke="#262626" stroke-width="2.7" />
<line x1="260.25" y1="2218.30" x2="260.25" y2="2208.30" stroke="#262626" stroke-width="2.7" />
<line x1="260.25" y1="1792.70" x2="260.25" y2="1802.70" stroke="#262626" stroke-width="2.7" />
<line x1="426.95" y1="2218.30" x2="426.95" y2="2208.30" stroke="#262626" stroke-width="2.7" />
<line x1="426.95" y1="1792.70" x2="426.95" y2="1802.70" stroke="#262626" stroke-width="2.7" />
<line x1="593.65" y1="2218.30" x2="593.65" y2="2208.30" stroke="#262626" stroke-width="2.7" />
<line x1="593.65" y1="1792.70" x2="593.65" y2="1802.70" stroke="#262626" stroke-width="2.7" />
<line x1="760.35" y1="2218.30" x2="760.35" y2="2208.30" stroke="#262626" stroke-width="2.7" />
<line x1="760.35" y1="1792.70" x2="760.35" y2="1802.70" stroke="#262626" stroke-width="2.7" />
<line x1="927.05" y1="2218.30" x2="927.05" y2="2208.30" stroke="#262626" stroke-width="2.7" />
<line x1="927.05" y1="1792.70" x2="927.05" y2="1802.70" stroke="#262626" stroke-width="2.7" />
<line x1="93.55" y1="2218.30" x2="103.55" y2="2218.30" stroke="#262626" stroke-width="2.7" />
<line x1="993.60" y1="2218.30" x2="983.60" y2="2218.30" stroke="#262626" stroke-width="2.7" />
<line x1="93.55" y1="2133.18" x2="103.55" y2="2133.18" stroke="#262626" stroke-width="2.7" />
<line x1="993.60" y1="2133.18" x2="983.60" y2="2133.18" stroke="#262626" stroke-width="2.7" />
<line x1="93.55" y1="2048.06" x2="103.55" y2="2048.06" stroke="#262626" stroke-width="2.7" />
<line x1="993.60" y1="2048.06" x2="983.60" y2="2048.06" stroke="#262626" stroke-width="2.7" />
<line x1="93.55" y1="1962.94" x2="103.55" y2="1962.94" stroke="#262626" stroke-width="2.7" />
<line x1="993.60" y1="1962.94" x2="983.60" y2="1962.94" stroke="#262626" stroke-width="2.7" />
<line x1="93.55" y1="1877.82" x2="103.55" y2="1877.82" stroke="#262626" stroke-width="2.7" />
<line x1="993.60" y1="1877.82" x2="983.60" y2="1877.82" stroke="#262626" stroke-width="2.7" />
<line x1="93.55" y1="1792.70" x2="103.55" y2="1792.70" stroke="#262626" stroke-width="2.7" />
<line x1="993.60" y1="1792.70" x2="983.60" y2="1792.70" stroke="#262626" stroke-width="2.7" />
<rect x="93.5" y="1792.7" width="900.1" height="425.6" fill="none" stroke="#262626" stroke-width="2.7"/>
<clipPath id="cd"><rect x="92.1" y="1791.3" width="903.5" height="428.4"/></clipPath>
<g clip-path="url(#cd)">
<line x1="893.60" y1="1792.70" x2="893.60" y2="2218.30" stroke="#3e9d63" stroke-width="2.2" stroke-dasharray="33.6 14.0 7.2 13.7" stroke-dashoffset="19.6"/>
<line x1="926.70" y1="1792.70" x2="926.70" y2="2218.30" stroke="#333333" stroke-width="2.2" stroke-dasharray="33.6 14.0 7.2 13.7" stroke-dashoffset="19.6"/>
<polyline points="91.4,1879.0 93.0,1879.0 95.0,1879.0 97.0,1879.0 99.0,1879.0 101.0,1879.0 103.0,1879.0 105.0,1879.0 107.0,1879.0 109.0,1879.0 111.0,1879.0 113.0,1879.0 115.0,1879.0 117.0,1879.0 119.0,1878.9 121.0,1878.9 123.0,1878.9 125.0,1878.9 127.1,1878.9 129.1,1878.9 131.1,1878.9 133.1,1878.9 135.1,1878.9 137.1,1878.9 139.1,1878.9 141.1,1878.9 143.1,1878.9 145.1,1878.9 147.1,1878.9 149.1,1878.9 151.1,1878.9 153.1,1878.9 155.1,1878.9 157.1,1878.9 159.1,1878.9 161.1,1878.9 163.1,1878.9 165.1,1878.8 167.1,1878.8 169.1,1878.8 171.1,1878.8 173.1,1878.8 175.1,1878.8 177.1,1878.8 179.1,1878.8 181.1,1878.8 183.1,1878.8 185.1,1878.8 187.1,1878.8 189.1,1878.8 191.2,1878.8 193.2,1878.8 195.2,1878.8 197.2,1878.8 199.2,1878.8 201.2,1878.8 203.2,1878.8 205.2,1878.8 207.2,1878.7 209.2,1878.7 211.2,1878.7 213.2,1878.7 215.2,1878.7 217.2,1878.7 219.2,1878.7 221.2,1878.7 223.2,1878.7 225.2,1878.7 227.2,1878.7 229.2,1878.7 231.2,1878.7 233.2,1878.7 235.2,1878.7 237.2,1878.7 239.2,1878.7 241.2,1878.7 243.2,1878.7 245.2,1878.7 247.2,1878.6 249.2,1878.6 251.2,1878.6 253.2,1878.6 255.2,1878.6 257.3,1878.6 259.3,1878.6 261.3,1878.6 263.3,1878.6 265.3,1878.6 267.3,1878.6 269.3,1878.6 271.3,1878.6 273.3,1878.6 275.3,1878.6 277.3,1878.6 279.3,1878.6 281.3,1878.6 283.3,1878.5 285.3,1878.5 287.3,1878.5 289.3,1878.5 291.3,1878.5 293.3,1878.5 295.3,1878.5 297.3,1878.5 299.3,1878.5 301.3,1878.5 303.3,1878.5 305.3,1878.5 307.3,1878.5 309.3,1878.5 311.3,1878.5 313.3,1878.5 315.3,1878.5 317.3,1878.4 319.3,1878.4 321.4,1878.4 323.4,1878.4 325.4,1878.4 327.4,1878.4 329.4,1878.4 331.4,1878.4 333.4,1878.4 335.4,1878.4 337.4,1878.4 339.4,1878.4 341.4,1878.4 343.4,1878.4 345.4,1878.4 347.4,1878.4 349.4,1878.4 351.4,1878.3 353.4,1878.3 355.4,1878.3 357.4,1878.3 359.4,1878.3 361.4,1878.3 363.4,1878.3 365.4,1878.3 367.4,1878.3 369.4,1878.3 371.4,1878.3 373.4,1878.3 375.4,1878.3 377.4,1878.3 379.4,1878.3 381.4,1878.3 383.4,1878.2 385.5,1878.2 387.5,1878.2 389.5,1878.2 391.5,1878.2 393.5,1878.2 395.5,1878.2 397.5,1878.2 399.5,1878.2 401.5,1878.2 403.5,1878.2 405.5,1878.2 407.5,1878.2 409.5,1878.2 411.5,1878.2 413.5,1878.1 415.5,1878.1 417.5,1878.1 419.5,1878.1 421.5,1878.1 423.5,1878.1 425.5,1878.1 427.5,1878.1 429.5,1878.1 431.5,1878.1 433.5,1878.1 435.5,1878.1 437.5,1878.1 439.5,1878.1 441.5,1878.0 443.5,1878.0 445.5,1878.0 447.5,1878.0 449.5,1878.0 451.6,1878.0 453.6,1878.0 455.6,1878.0 457.6,1878.0 459.6,1878.0 461.6,1878.0 463.6,1878.0 465.6,1877.9 467.6,1877.9 469.6,1877.9 471.6,1877.9 473.6,1877.9 475.6,1877.9 477.6,1877.9 479.6,1877.9 481.6,1877.9 483.6,1877.9 485.6,1877.9 487.6,1877.9 489.6,1877.8 491.6,1877.8 493.6,1877.8 495.6,1877.8 497.6,1877.8 499.6,1877.8 501.6,1877.8 503.6,1877.8 505.6,1877.8 507.6,1877.8 509.6,1877.8 511.6,1877.7 513.6,1877.7 515.7,1877.7 517.7,1877.7 519.7,1877.7 521.7,1877.7 523.7,1877.7 525.7,1877.7 527.7,1877.7 529.7,1877.7 531.7,1877.6 533.7,1877.6 535.7,1877.6 537.7,1877.6 539.7,1877.6 541.7,1877.6 543.7,1877.6 545.7,1877.6 547.7,1877.6 549.7,1877.6 551.7,1877.5 553.7,1877.5 555.7,1877.5 557.7,1877.5 559.7,1877.5 561.7,1877.5 563.7,1877.5 565.7,1877.5 567.7,1877.4 569.7,1877.4 571.7,1877.4 573.7,1877.4 575.7,1877.4 577.7,1877.4 579.7,1877.4 581.8,1877.3 583.8,1877.3 585.8,1877.3 587.8,1877.3 589.8,1877.3 591.8,1877.3 593.8,1877.3 595.8,1877.2 597.8,1877.2 599.8,1877.2 601.8,1877.2 603.8,1877.2 605.8,1877.1 607.8,1877.1 609.8,1877.1 611.8,1877.1 613.8,1877.0 615.8,1877.0 617.8,1877.0 619.8,1876.9 621.8,1876.9 623.8,1876.8 625.8,1876.8 627.8,1876.8 629.8,1876.7 631.8,1876.7 633.8,1876.7 635.8,1876.6 637.8,1876.6 639.8,1876.6 641.8,1876.5 643.8,1876.5 645.8,1876.5 647.9,1876.5 649.9,1876.5 651.9,1876.4 653.9,1876.4 655.9,1876.4 657.9,1876.4 659.9,1876.4 661.9,1876.4 663.9,1876.4 665.9,1876.5 667.9,1876.5 669.9,1876.5 671.9,1876.6 673.9,1876.6 675.9,1876.7 677.9,1876.8 679.9,1876.9 681.9,1877.0 683.9,1877.0 685.9,1877.1 687.9,1877.3 689.9,1877.4 691.9,1877.5 693.9,1877.6 695.9,1877.7 697.9,1877.9 699.9,1878.0 701.9,1878.2 703.9,1878.4 705.8,1878.7 707.8,1878.9 709.8,1879.3 711.8,1879.6 713.8,1880.0 715.7,1880.4 717.7,1880.8 719.7,1881.2 721.6,1881.7 723.6,1882.2 725.5,1882.6 727.5,1883.1 729.4,1883.6 731.3,1884.1 733.3,1884.6 735.2,1885.2 737.1,1885.7 739.0,1886.3 740.9,1887.0 742.8,1887.6 744.7,1888.2 746.6,1888.9 748.5,1889.6 750.4,1890.3 752.3,1891.0 754.2,1891.7 756.0,1892.5 757.9,1893.2 759.7,1893.9 761.6,1894.7 763.4,1895.5 765.3,1896.3 767.1,1897.1 768.9,1898.0 770.7,1898.8 772.5,1899.7 774.3,1900.5 776.1,1901.4 778.0,1902.2 779.8,1903.1 781.6,1903.9 783.4,1904.7 785.3,1905.6 787.1,1906.4 788.9,1907.2 790.8,1908.0 792.6,1908.8 794.4,1909.6 796.3,1910.4 798.1,1911.2 799.9,1912.0 801.8,1912.8 803.6,1913.6 805.5,1914.4 807.3,1915.2 809.2,1916.0 811.0,1916.7 812.9,1917.5 814.8,1918.2 816.6,1918.9 818.5,1919.5 820.4,1920.1 822.3,1920.7 824.3,1921.3 826.2,1921.9 828.2,1922.5 830.1,1923.0 832.1,1923.5 834.0,1923.9 836.0,1924.2 838.0,1924.4 840.0,1924.5 841.9,1924.5 844.0,1924.3 846.0,1924.2 848.0,1923.9 849.9,1923.6 851.9,1923.3 853.8,1922.8 855.7,1922.3 857.6,1921.6 859.5,1920.7 861.3,1919.8 863.0,1918.9 864.7,1917.8 866.4,1916.7 868.0,1915.5 869.5,1914.3 871.0,1912.9 872.5,1911.5 873.9,1910.1 875.3,1908.6 876.6,1907.1 877.8,1905.6 879.0,1904.0 880.2,1902.3 881.3,1900.7 882.4,1899.0 883.5,1897.3 884.6,1895.6 885.6,1893.8 886.6,1892.1 887.6,1890.4 888.5,1888.6 889.4,1886.8 890.4,1885.0 891.3,1883.2 892.1,1881.4 893.0,1879.6 893.9,1877.8 894.7,1876.0 895.5,1874.2 896.3,1872.3 897.1,1870.5 897.9,1868.7 898.7,1866.8 899.4,1865.0 900.2,1863.1 901.0,1861.2 901.7,1859.4 902.5,1857.5 903.2,1855.7 904.0,1853.8 904.8,1852.0 905.5,1850.1 906.2,1848.2 906.9,1846.3 907.6,1844.5 908.2,1842.6 908.8,1840.7 909.4,1838.7 909.9,1836.8 910.4,1834.9 910.9,1832.9 911.4,1831.0 911.8,1829.0 912.1,1827.0 912.4,1825.1 912.6,1823.1 912.8,1821.1 913.0,1819.1 913.3,1817.1 913.5,1815.1 913.8,1813.1 914.1,1811.1 914.6,1809.2 915.1,1807.3 915.7,1805.3 916.3,1803.5 917.1,1801.6 918.0,1799.9 919.0,1798.1 920.1,1796.5 921.3,1794.8 922.6,1793.3 923.5,1792.0" fill="none" stroke="#9b0a1c" stroke-width="4.5" stroke-linejoin="round" />
<polyline points="91.4,2212.5 93.0,2212.5 95.0,2212.5 97.0,2212.5 99.0,2212.5 101.0,2212.5 103.0,2212.6 105.0,2212.6 107.0,2212.6 109.0,2212.6 111.0,2212.6 113.0,2212.6 115.0,2212.6 117.0,2212.6 119.0,2212.6 121.0,2212.7 123.0,2212.7 125.0,2212.7 127.0,2212.7 129.0,2212.7 131.0,2212.7 133.0,2212.7 135.1,2212.7 137.1,2212.7 139.1,2212.8 141.1,2212.8 143.1,2212.8 145.1,2212.8 147.1,2212.8 149.1,2212.8 151.1,2212.8 153.1,2212.8 155.1,2212.8 157.1,2212.8 159.1,2212.9 161.1,2212.9 163.1,2212.9 165.1,2212.9 167.1,2212.9 169.1,2212.9 171.1,2212.9 173.1,2212.9 175.1,2212.9 177.1,2213.0 179.1,2213.0 181.1,2213.0 183.1,2213.0 185.1,2213.0 187.1,2213.0 189.1,2213.0 191.1,2213.0 193.1,2213.0 195.1,2213.1 197.1,2213.1 199.1,2213.1 201.1,2213.1 203.1,2213.1 205.1,2213.1 207.1,2213.1 209.1,2213.1 211.1,2213.1 213.1,2213.1 215.2,2213.2 217.2,2213.2 219.2,2213.2 221.2,2213.2 223.2,2213.2 225.2,2213.2 227.2,2213.2 229.2,2213.2 231.2,2213.2 233.2,2213.3 235.2,2213.3 237.2,2213.3 239.2,2213.3 241.2,2213.3 243.2,2213.3 245.2,2213.3 247.2,2213.3 249.2,2213.3 251.2,2213.3 253.2,2213.4 255.2,2213.4 257.2,2213.4 259.2,2213.4 261.2,2213.4 263.2,2213.4 265.2,2213.4 267.2,2213.4 269.2,2213.4 271.2,2213.5 273.2,2213.5 275.2,2213.5 277.2,2213.5 279.2,2213.5 281.2,2213.5 283.2,2213.5 285.2,2213.5 287.2,2213.5 289.2,2213.5 291.2,2213.6 293.2,2213.6 295.3,2213.6 297.3,2213.6 299.3,2213.6 301.3,2213.6 303.3,2213.6 305.3,2213.6 307.3,2213.6 309.3,2213.6 311.3,2213.7 313.3,2213.7 315.3,2213.7 317.3,2213.7 319.3,2213.7 321.3,2213.7 323.3,2213.7 325.3,2213.7 327.3,2213.8 329.3,2213.8 331.3,2213.8 333.3,2213.8 335.3,2213.8 337.3,2213.8 339.3,2213.8 341.3,2213.8 343.3,2213.9 345.3,2213.9 347.3,2213.9 349.3,2213.9 351.3,2213.9 353.3,2213.9 355.3,2213.9 357.3,2213.9 359.3,2214.0 361.3,2214.0 363.3,2214.0 365.3,2214.0 367.3,2214.0 369.3,2214.0 371.3,2214.0 373.3,2214.1 375.4,2214.1 377.4,2214.1 379.4,2214.1 381.4,2214.1 383.4,2214.1 385.4,2214.1 387.4,2214.1 389.4,2214.2 391.4,2214.2 393.4,2214.2 395.4,2214.2 397.4,2214.2 399.4,2214.2 401.4,2214.2 403.4,2214.2 405.4,2214.3 407.4,2214.3 409.4,2214.3 411.4,2214.3 413.4,2214.3 415.4,2214.3 417.4,2214.3 419.4,2214.3 421.4,2214.4 423.4,2214.4 425.4,2214.4 427.4,2214.4 429.4,2214.4 431.4,2214.4 433.4,2214.4 435.4,2214.4 437.4,2214.4 439.4,2214.4 441.4,2214.5 443.4,2214.5 445.4,2214.5 447.4,2214.5 449.4,2214.5 451.4,2214.5 453.4,2214.5 455.5,2214.5 457.5,2214.5 459.5,2214.5 461.5,2214.5 463.5,2214.5 465.5,2214.5 467.5,2214.6 469.5,2214.6 471.5,2214.6 473.5,2214.6 475.5,2214.6 477.5,2214.6 479.5,2214.6 481.5,2214.6 483.5,2214.6 485.5,2214.6 487.5,2214.6 489.5,2214.6 491.5,2214.6 493.5,2214.6 495.5,2214.6 497.5,2214.6 499.5,2214.6 501.5,2214.6 503.5,2214.6 505.5,2214.6 507.5,2214.6 509.5,2214.6 511.5,2214.6 513.5,2214.6 515.5,2214.6 517.5,2214.6 519.5,2214.6 521.5,2214.6 523.5,2214.6 525.5,2214.6 527.5,2214.6 529.5,2214.6 531.5,2214.6 533.5,2214.6 535.6,2214.6 537.6,2214.6 539.6,2214.6 541.6,2214.6 543.6,2214.6 545.6,2214.6 547.6,2214.6 549.6,2214.6 551.6,2214.6 553.6,2214.6 555.6,2214.6 557.6,2214.6 559.6,2214.6 561.6,2214.6 563.6,2214.6 565.6,2214.6 567.6,2214.6 569.6,2214.6 571.6,2214.6 573.6,2214.6 575.6,2214.6 577.6,2214.6 579.6,2214.6 581.6,2214.6 583.6,2214.6 585.6,2214.6 587.6,2214.6 589.6,2214.6 591.6,2214.6 593.6,2214.6 595.6,2214.6 597.6,2214.6 599.6,2214.6 601.6,2214.6 603.6,2214.6 605.6,2214.6 607.6,2214.6 609.6,2214.6 611.6,2214.6 613.6,2214.6 615.7,2214.6 617.7,2214.6 619.7,2214.6 621.7,2214.6 623.7,2214.6 625.7,2214.6 627.7,2214.6 629.7,2214.6 631.7,2214.6 633.7,2214.6 635.7,2214.6 637.7,2214.6 639.7,2214.6 641.7,2214.6 643.7,2214.6 645.7,2214.6 647.7,2214.6 649.7,2214.6 651.7,2214.6 653.7,2214.6 655.7,2214.6 657.7,2214.6 659.7,2214.6 661.7,2214.6 663.7,2214.6 665.7,2214.6 667.7,2214.6 669.7,2214.6 671.7,2214.6 673.7,2214.6 675.7,2214.6 677.7,2214.6 679.7,2214.6 681.7,2214.6 683.7,2214.6 685.7,2214.6 687.8,2214.6 689.8,2214.6 691.8,2214.6 693.8,2214.6 695.8,2214.6 697.8,2214.6 699.8,2214.6 701.8,2214.5 703.8,2214.5 705.8,2214.5 707.8,2214.5 709.8,2214.5 711.8,2214.5 713.8,2214.5 715.8,2214.5 717.8,2214.5 719.8,2214.5 721.8,2214.5 723.8,2214.5 725.8,2214.5 727.8,2214.5 729.8,2214.5 731.8,2214.5 733.8,2214.5 735.8,2214.5 737.8,2214.5 739.8,2214.5 741.8,2214.4 743.8,2214.4 745.8,2214.4 747.8,2214.4 749.8,2214.4 751.8,2214.4 753.8,2214.4 755.9,2214.4 757.9,2214.4 759.9,2214.4 761.9,2214.4 763.9,2214.4 765.9,2214.4 767.9,2214.3 769.9,2214.3 771.9,2214.3 773.9,2214.3 775.9,2214.3 777.9,2214.3 779.9,2214.3 781.9,2214.3 783.9,2214.3 785.9,2214.3 787.9,2214.2 789.9,2214.2 791.9,2214.2 793.9,2214.2 795.9,2214.2 797.9,2214.2 799.9,2214.2 801.9,2214.2 803.9,2214.1 805.9,2214.1 807.9,2214.1 809.9,2214.1 811.9,2214.1 813.9,2214.1 815.9,2214.1 817.9,2214.1 819.9,2214.0 821.9,2214.0 823.9,2214.0 825.9,2214.0 827.9,2214.0 829.9,2214.0 831.9,2213.9 833.9,2213.9 835.9,2213.9 837.9,2213.9 839.9,2213.9 841.9,2213.8 843.9,2213.8 845.9,2213.7 847.9,2213.6 849.9,2213.5 851.9,2213.4 853.9,2213.3 855.9,2213.2 857.9,2213.1 859.9,2213.0 861.9,2212.8 863.9,2212.7 865.9,2212.6 867.9,2212.4 869.9,2212.3 871.9,2212.1 873.9,2212.0 875.9,2211.9 877.9,2211.7 879.9,2211.5 881.9,2211.4 883.9,2211.2 885.9,2211.0 887.9,2210.8 889.9,2210.5 891.9,2210.3 893.8,2210.0 895.8,2209.7 897.8,2209.3 899.8,2208.9 901.7,2208.5 903.7,2208.0 905.6,2207.6 907.6,2207.1 909.5,2206.5 911.4,2205.9 913.3,2205.3 915.2,2204.5 917.0,2203.8 918.8,2202.9 920.5,2201.9 922.2,2200.9 924.0,2199.8 925.7,2198.8 927.5,2197.9 929.4,2197.0 931.1,2196.0 932.6,2194.8 933.8,2193.5 934.8,2191.8 935.5,2190.0 936.1,2188.1 936.5,2186.1 936.9,2184.1 937.2,2182.1 937.5,2180.2 937.9,2178.2 938.2,2176.2 938.7,2174.3 939.2,2172.4 939.9,2170.5 940.7,2168.7 941.6,2166.9 942.6,2165.1 943.6,2163.4 944.7,2161.7 945.8,2160.0 946.9,2158.4 948.1,2156.8 949.3,2155.1 950.5,2153.5 951.7,2151.9 952.8,2150.3 954.0,2148.6 955.2,2147.0 956.3,2145.3 957.5,2143.7 958.6,2142.0 959.8,2140.3 960.9,2138.7 962.0,2137.0 963.0,2135.3 964.0,2133.5 964.9,2131.8 965.7,2130.0 966.5,2128.2 967.2,2126.4 967.9,2124.5 968.6,2122.6 969.2,2120.7 969.8,2118.8 970.4,2116.8 971.0,2114.9 971.6,2113.0 972.2,2111.1 972.8,2109.1 973.4,2107.2 974.0,2105.3 974.6,2103.4 975.2,2101.5 975.8,2099.5 976.4,2097.6 977.0,2095.7 977.6,2093.8 978.2,2091.9 978.9,2090.1 979.7,2088.2 980.4,2086.4 981.3,2084.5 982.1,2082.7 983.1,2080.9 984.1,2079.1 985.1,2077.4 986.3,2075.8 987.5,2074.3 988.9,2073.0 990.4,2071.7 992.0,2070.5 993.7,2069.4 995.0,2068.4" fill="none" stroke="#0e1f66" stroke-width="4.5" stroke-linejoin="round" />
</g>
<text x="86.0" y="2226.3" font-size="28.5" text-anchor="end" fill="#262626" >0</text>
<text x="86.0" y="2141.2" font-size="28.5" text-anchor="end" fill="#262626" >0.2</text>
<text x="86.0" y="2056.1" font-size="28.5" text-anchor="end" fill="#262626" >0.4</text>
<text x="86.0" y="1970.9" font-size="28.5" text-anchor="end" fill="#262626" >0.6</text>
<text x="86.0" y="1885.8" font-size="28.5" text-anchor="end" fill="#262626" >0.8</text>
<text x="86.0" y="1800.7" font-size="28.5" text-anchor="end" fill="#262626" >1</text>
<text x="93.5" y="2250.2" font-size="28.5" text-anchor="middle" fill="#262626" >0</text>
<text x="260.2" y="2250.2" font-size="28.5" text-anchor="middle" fill="#262626" >5</text>
<text x="427.0" y="2250.2" font-size="28.5" text-anchor="middle" fill="#262626" >10</text>
<text x="593.6" y="2250.2" font-size="28.5" text-anchor="middle" fill="#262626" >15</text>
<text x="760.4" y="2250.2" font-size="28.5" text-anchor="middle" fill="#262626" >20</text>
<text x="927.1" y="2250.2" font-size="28.5" text-anchor="middle" fill="#262626" >25</text>
<text x="229.4" y="2289.6" font-size="35.0" fill="#262626" textLength="529.4" lengthAdjust="spacingAndGlyphs">Simulation region (electrode width)</text>
<text x="774.4" y="2297.8" font-size="50.8" fill="#444" textLength="16.1" lengthAdjust="spacingAndGlyphs">/</text>
<text x="803.0" y="2289.6" font-size="35.0" fill="#262626" textLength="55.0" lengthAdjust="spacingAndGlyphs">mm</text>
<g transform="translate(32.0,2191.0) rotate(-90)">
<text x="0.0" y="0.0" font-size="35.0" fill="#262626" textLength="320.0" lengthAdjust="spacingAndGlyphs">EoD lithiation degree</text>
<text x="334.0" y="8.2" font-size="50.8" fill="#444" textLength="19.0" lengthAdjust="spacingAndGlyphs">/</text>
<text x="361.0" y="0.0" font-size="35.0" fill="#262626" textLength="9.0" lengthAdjust="spacingAndGlyphs">-</text>
</g>
<text x="112.0" y="1835.0" font-size="35" text-anchor="start" fill="#000" textLength="204.0" lengthAdjust="spacingAndGlyphs" >d) Simulation</text>
<text x="935.0" y="1834.0" font-size="31" text-anchor="start" fill="#000" textLength="51.0" lengthAdjust="spacingAndGlyphs" >OH</text>
<text x="687.0" y="2140.8" font-size="28.5" text-anchor="start" fill="#07822f" textLength="129.5" lengthAdjust="spacingAndGlyphs" >Near edge</text>
<line x1="827.00" y1="2134.30" x2="873.80" y2="2134.30" stroke="#07822f" stroke-width="3.5" />
<polygon points="892.6,2134.3 866.8,2124.5 873.8,2134.3 866.8,2144.1" fill="#07822f" stroke="#07822f" stroke-width="1.6" stroke-linejoin="round"/>
</svg>
</body></html>
